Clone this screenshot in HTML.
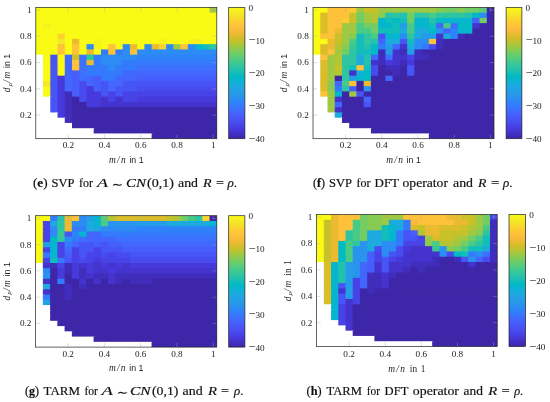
<!DOCTYPE html>
<html lang="en"><head><meta charset="utf-8"><title>Phase transition heatmaps</title>
<style>
html,body{margin:0;padding:0;background:#fff}
body{width:550px;height:402px;overflow:hidden}
svg{display:block}
text{fill:#222}
.tk{font-family:"Liberation Serif","DejaVu Serif",serif;font-size:9.2px}
.mn{font-size:12.4px}
.ax{font-family:"Liberation Sans","DejaVu Sans",sans-serif;font-size:8.8px}
.mi{font-family:"Liberation Serif","DejaVu Serif",serif;font-style:italic;font-size:9.4px;letter-spacing:1.3px}
.cap{font-family:"Liberation Serif","DejaVu Serif",serif;font-size:12.6px;fill:#111;stroke:#111;stroke-width:0.18px}
.ax.axs{font-family:"Liberation Serif","DejaVu Serif",serif;font-size:9.3px;word-spacing:1px;letter-spacing:0.2px}
.mi.sb{font-size:6.6px;letter-spacing:0.6px}
.cap .b{font-weight:bold}
.cap .it{font-style:italic}
.cap .til{font-family:"DejaVu Serif","DejaVu Sans",serif;font-size:14px;stroke:none}
.cap .cal{font-style:italic}
</style></head><body>
<svg width="550" height="402" viewBox="0 0 550 402">
<defs><linearGradient id="pg" x1="0" y1="1" x2="0" y2="0"><stop offset="0" stop-color="#3e26a8"/><stop offset="0.03" stop-color="#422ebf"/><stop offset="0.06" stop-color="#4536d5"/><stop offset="0.09" stop-color="#4741e5"/><stop offset="0.12" stop-color="#484cef"/><stop offset="0.16" stop-color="#4757f7"/><stop offset="0.19" stop-color="#4562fc"/><stop offset="0.22" stop-color="#3f6efe"/><stop offset="0.25" stop-color="#347afd"/><stop offset="0.28" stop-color="#2e85f8"/><stop offset="0.31" stop-color="#2c90f0"/><stop offset="0.34" stop-color="#269ae9"/><stop offset="0.38" stop-color="#21a3e3"/><stop offset="0.41" stop-color="#1aacdd"/><stop offset="0.44" stop-color="#0cb3d3"/><stop offset="0.47" stop-color="#01b9c6"/><stop offset="0.5" stop-color="#12beb9"/><stop offset="0.53" stop-color="#28c2ab"/><stop offset="0.56" stop-color="#34c79c"/><stop offset="0.59" stop-color="#44ca8a"/><stop offset="0.62" stop-color="#5ccc76"/><stop offset="0.66" stop-color="#77cc60"/><stop offset="0.69" stop-color="#94ca4a"/><stop offset="0.72" stop-color="#afc637"/><stop offset="0.75" stop-color="#c8c129"/><stop offset="0.78" stop-color="#debc2a"/><stop offset="0.81" stop-color="#f1ba37"/><stop offset="0.84" stop-color="#febe3c"/><stop offset="0.88" stop-color="#feca33"/><stop offset="0.91" stop-color="#f9d62d"/><stop offset="0.94" stop-color="#f5e327"/><stop offset="0.97" stop-color="#f6ef20"/><stop offset="1" stop-color="#f9fb15"/></linearGradient></defs>
<rect width="550" height="402" fill="#fff"/>
<g id="plot-e">
<rect x="35.8" y="7.4" width="174.76" height="6.25" fill="#f9fb15"/><rect x="209.56" y="7.4" width="7.24" height="6.25" fill="#9fc942"/>
<rect x="35.8" y="12.65" width="181" height="6.25" fill="#f9fb15"/>
<rect x="35.8" y="17.9" width="181" height="6.25" fill="#f9fb15"/>
<rect x="35.8" y="23.16" width="8.24" height="6.25" fill="#f9fb15"/><rect x="43.04" y="23.16" width="8.24" height="6.25" fill="#f6f21e"/><rect x="50.28" y="23.16" width="166.52" height="6.25" fill="#f9fb15"/>
<rect x="35.8" y="28.41" width="181" height="6.25" fill="#f9fb15"/>
<rect x="35.8" y="33.66" width="22.72" height="6.25" fill="#f9fb15"/><rect x="57.52" y="33.66" width="8.24" height="6.25" fill="#fad42e"/><rect x="64.76" y="33.66" width="152.04" height="6.25" fill="#f9fb15"/>
<rect x="35.8" y="38.91" width="22.72" height="6.25" fill="#f9fb15"/><rect x="57.52" y="38.91" width="8.24" height="6.25" fill="#f5e825"/><rect x="64.76" y="38.91" width="8.24" height="6.25" fill="#f9fb15"/><rect x="72" y="38.91" width="8.24" height="6.25" fill="#eaba31"/><rect x="79.24" y="38.91" width="15.48" height="6.25" fill="#f9fb15"/><rect x="93.72" y="38.91" width="8.24" height="6.25" fill="#f6f21e"/><rect x="100.96" y="38.91" width="58.92" height="6.25" fill="#f9fb15"/><rect x="158.88" y="38.91" width="8.24" height="6.25" fill="#f6f21e"/><rect x="166.12" y="38.91" width="22.72" height="6.25" fill="#f9fb15"/><rect x="187.84" y="38.91" width="15.48" height="6.25" fill="#f6f21e"/><rect x="202.32" y="38.91" width="14.48" height="6.25" fill="#f9fb15"/>
<rect x="35.8" y="44.16" width="22.72" height="6.25" fill="#f9fb15"/><rect x="57.52" y="44.16" width="8.24" height="6.25" fill="#fec13a"/><rect x="64.76" y="44.16" width="8.24" height="6.25" fill="#f9fb15"/><rect x="72" y="44.16" width="8.24" height="6.25" fill="#fec13a"/><rect x="79.24" y="44.16" width="8.24" height="6.25" fill="#f9fb15"/><rect x="86.48" y="44.16" width="8.24" height="6.25" fill="#2d8cf3"/><rect x="93.72" y="44.16" width="8.24" height="6.25" fill="#f6f21e"/><rect x="100.96" y="44.16" width="8.24" height="6.25" fill="#f9fb15"/><rect x="108.2" y="44.16" width="8.24" height="6.25" fill="#fec13a"/><rect x="115.44" y="44.16" width="8.24" height="6.25" fill="#f9fb15"/><rect x="122.68" y="44.16" width="8.24" height="6.25" fill="#2d8cf3"/><rect x="129.92" y="44.16" width="8.24" height="6.25" fill="#eaba31"/><rect x="137.16" y="44.16" width="8.24" height="6.25" fill="#f9fb15"/><rect x="144.4" y="44.16" width="8.24" height="6.25" fill="#2d8cf3"/><rect x="151.64" y="44.16" width="8.24" height="6.25" fill="#eaba31"/><rect x="158.88" y="44.16" width="8.24" height="6.25" fill="#fad42e"/><rect x="166.12" y="44.16" width="8.24" height="6.25" fill="#2d8cf3"/><rect x="173.36" y="44.16" width="8.24" height="6.25" fill="#9fc942"/><rect x="180.6" y="44.16" width="8.24" height="6.25" fill="#fec13a"/><rect x="187.84" y="44.16" width="8.24" height="6.25" fill="#2d8cf3"/><rect x="195.08" y="44.16" width="8.24" height="6.25" fill="#05b6ce"/><rect x="202.32" y="44.16" width="8.24" height="6.25" fill="#12beb9"/><rect x="209.56" y="44.16" width="7.24" height="6.25" fill="#2fc5a2"/>
<rect x="35.8" y="49.42" width="22.72" height="6.25" fill="#f9fb15"/><rect x="57.52" y="49.42" width="8.24" height="6.25" fill="#fec13a"/><rect x="64.76" y="49.42" width="8.24" height="6.25" fill="#f9fb15"/><rect x="72" y="49.42" width="8.24" height="6.25" fill="#fec13a"/><rect x="79.24" y="49.42" width="8.24" height="6.25" fill="#f9fb15"/><rect x="86.48" y="49.42" width="8.24" height="6.25" fill="#eaba31"/><rect x="93.72" y="49.42" width="8.24" height="6.25" fill="#f9fb15"/><rect x="100.96" y="49.42" width="8.24" height="6.25" fill="#347afd"/><rect x="108.2" y="49.42" width="8.24" height="6.25" fill="#fec13a"/><rect x="115.44" y="49.42" width="8.24" height="6.25" fill="#347afd"/><rect x="122.68" y="49.42" width="8.24" height="6.25" fill="#2d8cf3"/><rect x="129.92" y="49.42" width="8.24" height="6.25" fill="#fec13a"/><rect x="137.16" y="49.42" width="79.64" height="6.25" fill="#2d8cf3"/>
<rect x="35.8" y="54.67" width="8.24" height="6.25" fill="#ffffff"/><rect x="43.04" y="54.67" width="8.24" height="6.25" fill="#f9fb15"/><rect x="50.28" y="54.67" width="8.24" height="6.25" fill="#4755f6"/><rect x="57.52" y="54.67" width="8.24" height="6.25" fill="#f9fb15"/><rect x="64.76" y="54.67" width="8.24" height="6.25" fill="#4367fd"/><rect x="72" y="54.67" width="8.24" height="6.25" fill="#c8c129"/><rect x="79.24" y="54.67" width="8.24" height="6.25" fill="#3d70ff"/><rect x="86.48" y="54.67" width="8.24" height="6.25" fill="#2fc5a2"/><rect x="93.72" y="54.67" width="8.24" height="6.25" fill="#347afd"/><rect x="100.96" y="54.67" width="37.2" height="6.25" fill="#2d8cf3"/><rect x="137.16" y="54.67" width="79.64" height="6.25" fill="#2e83f9"/>
<rect x="35.8" y="59.92" width="8.24" height="6.25" fill="#ffffff"/><rect x="43.04" y="59.92" width="8.24" height="6.25" fill="#f9fb15"/><rect x="50.28" y="59.92" width="8.24" height="6.25" fill="#4755f6"/><rect x="57.52" y="59.92" width="8.24" height="6.25" fill="#f9fb15"/><rect x="64.76" y="59.92" width="8.24" height="6.25" fill="#4367fd"/><rect x="72" y="59.92" width="8.24" height="6.25" fill="#fec13a"/><rect x="79.24" y="59.92" width="8.24" height="6.25" fill="#3d70ff"/><rect x="86.48" y="59.92" width="8.24" height="6.25" fill="#eaba31"/><rect x="93.72" y="59.92" width="8.24" height="6.25" fill="#347afd"/><rect x="100.96" y="59.92" width="22.72" height="6.25" fill="#2d8cf3"/><rect x="122.68" y="59.92" width="94.12" height="6.25" fill="#347afd"/>
<rect x="35.8" y="65.17" width="8.24" height="6.25" fill="#ffffff"/><rect x="43.04" y="65.17" width="8.24" height="6.25" fill="#f9fb15"/><rect x="50.28" y="65.17" width="8.24" height="6.25" fill="#4755f6"/><rect x="57.52" y="65.17" width="8.24" height="6.25" fill="#f9fb15"/><rect x="64.76" y="65.17" width="8.24" height="6.25" fill="#4367fd"/><rect x="72" y="65.17" width="8.24" height="6.25" fill="#fec13a"/><rect x="79.24" y="65.17" width="8.24" height="6.25" fill="#3d70ff"/><rect x="86.48" y="65.17" width="22.72" height="6.25" fill="#347afd"/><rect x="108.2" y="65.17" width="8.24" height="6.25" fill="#2d8cf3"/><rect x="115.44" y="65.17" width="22.72" height="6.25" fill="#347afd"/><rect x="137.16" y="65.17" width="79.64" height="6.25" fill="#3d70ff"/>
<rect x="35.8" y="70.42" width="8.24" height="6.25" fill="#ffffff"/><rect x="43.04" y="70.42" width="8.24" height="6.25" fill="#f9fb15"/><rect x="50.28" y="70.42" width="8.24" height="6.25" fill="#4755f6"/><rect x="57.52" y="70.42" width="8.24" height="6.25" fill="#f9fb15"/><rect x="64.76" y="70.42" width="8.24" height="6.25" fill="#4367fd"/><rect x="72" y="70.42" width="8.24" height="6.25" fill="#465efb"/><rect x="79.24" y="70.42" width="8.24" height="6.25" fill="#3d70ff"/><rect x="86.48" y="70.42" width="37.2" height="6.25" fill="#347afd"/><rect x="122.68" y="70.42" width="94.12" height="6.25" fill="#4367fd"/>
<rect x="35.8" y="75.68" width="8.24" height="6.25" fill="#ffffff"/><rect x="43.04" y="75.68" width="8.24" height="6.25" fill="#f9fb15"/><rect x="50.28" y="75.68" width="8.24" height="6.25" fill="#4755f6"/><rect x="57.52" y="75.68" width="8.24" height="6.25" fill="#463adc"/><rect x="64.76" y="75.68" width="8.24" height="6.25" fill="#4367fd"/><rect x="72" y="75.68" width="8.24" height="6.25" fill="#465efb"/><rect x="79.24" y="75.68" width="8.24" height="6.25" fill="#3d70ff"/><rect x="86.48" y="75.68" width="8.24" height="6.25" fill="#4367fd"/><rect x="93.72" y="75.68" width="8.24" height="6.25" fill="#465efb"/><rect x="100.96" y="75.68" width="15.48" height="6.25" fill="#347afd"/><rect x="115.44" y="75.68" width="22.72" height="6.25" fill="#4367fd"/><rect x="137.16" y="75.68" width="79.64" height="6.25" fill="#465efb"/>
<rect x="35.8" y="80.93" width="8.24" height="6.25" fill="#ffffff"/><rect x="43.04" y="80.93" width="8.24" height="6.25" fill="#f5e825"/><rect x="50.28" y="80.93" width="8.24" height="6.25" fill="#4755f6"/><rect x="57.52" y="80.93" width="8.24" height="6.25" fill="#463adc"/><rect x="64.76" y="80.93" width="8.24" height="6.25" fill="#4367fd"/><rect x="72" y="80.93" width="8.24" height="6.25" fill="#465efb"/><rect x="79.24" y="80.93" width="8.24" height="6.25" fill="#484cef"/><rect x="86.48" y="80.93" width="8.24" height="6.25" fill="#4367fd"/><rect x="93.72" y="80.93" width="8.24" height="6.25" fill="#465efb"/><rect x="100.96" y="80.93" width="8.24" height="6.25" fill="#4755f6"/><rect x="108.2" y="80.93" width="15.48" height="6.25" fill="#4367fd"/><rect x="122.68" y="80.93" width="94.12" height="6.25" fill="#4755f6"/>
<rect x="35.8" y="86.18" width="8.24" height="6.25" fill="#ffffff"/><rect x="43.04" y="86.18" width="8.24" height="6.25" fill="#f9fb15"/><rect x="50.28" y="86.18" width="8.24" height="6.25" fill="#4755f6"/><rect x="57.52" y="86.18" width="8.24" height="6.25" fill="#463adc"/><rect x="64.76" y="86.18" width="8.24" height="6.25" fill="#4367fd"/><rect x="72" y="86.18" width="8.24" height="6.25" fill="#465efb"/><rect x="79.24" y="86.18" width="8.24" height="6.25" fill="#484cef"/><rect x="86.48" y="86.18" width="8.24" height="6.25" fill="#463adc"/><rect x="93.72" y="86.18" width="8.24" height="6.25" fill="#465efb"/><rect x="100.96" y="86.18" width="8.24" height="6.25" fill="#4755f6"/><rect x="108.2" y="86.18" width="8.24" height="6.25" fill="#4367fd"/><rect x="115.44" y="86.18" width="22.72" height="6.25" fill="#4755f6"/><rect x="137.16" y="86.18" width="79.64" height="6.25" fill="#484cef"/>
<rect x="35.8" y="91.43" width="8.24" height="6.25" fill="#ffffff"/><rect x="43.04" y="91.43" width="8.24" height="6.25" fill="#f9fb15"/><rect x="50.28" y="91.43" width="8.24" height="6.25" fill="#4755f6"/><rect x="57.52" y="91.43" width="8.24" height="6.25" fill="#463adc"/><rect x="64.76" y="91.43" width="8.24" height="6.25" fill="#412dbb"/><rect x="72" y="91.43" width="8.24" height="6.25" fill="#465efb"/><rect x="79.24" y="91.43" width="8.24" height="6.25" fill="#484cef"/><rect x="86.48" y="91.43" width="15.48" height="6.25" fill="#463adc"/><rect x="100.96" y="91.43" width="8.24" height="6.25" fill="#4755f6"/><rect x="108.2" y="91.43" width="8.24" height="6.25" fill="#4743e7"/><rect x="115.44" y="91.43" width="8.24" height="6.25" fill="#4755f6"/><rect x="122.68" y="91.43" width="94.12" height="6.25" fill="#4743e7"/>
<rect x="35.8" y="96.68" width="15.48" height="6.25" fill="#ffffff"/><rect x="50.28" y="96.68" width="8.24" height="6.25" fill="#4755f6"/><rect x="57.52" y="96.68" width="8.24" height="6.25" fill="#463adc"/><rect x="64.76" y="96.68" width="8.24" height="6.25" fill="#412dbb"/><rect x="72" y="96.68" width="8.24" height="6.25" fill="#3e26a8"/><rect x="79.24" y="96.68" width="8.24" height="6.25" fill="#484cef"/><rect x="86.48" y="96.68" width="15.48" height="6.25" fill="#463adc"/><rect x="100.96" y="96.68" width="8.24" height="6.25" fill="#4433cc"/><rect x="108.2" y="96.68" width="8.24" height="6.25" fill="#4743e7"/><rect x="115.44" y="96.68" width="8.24" height="6.25" fill="#4433cc"/><rect x="122.68" y="96.68" width="15.48" height="6.25" fill="#4743e7"/><rect x="137.16" y="96.68" width="79.64" height="6.25" fill="#463adc"/>
<rect x="35.8" y="101.94" width="15.48" height="6.25" fill="#ffffff"/><rect x="50.28" y="101.94" width="8.24" height="6.25" fill="#4755f6"/><rect x="57.52" y="101.94" width="8.24" height="6.25" fill="#463adc"/><rect x="64.76" y="101.94" width="8.24" height="6.25" fill="#412dbb"/><rect x="72" y="101.94" width="15.48" height="6.25" fill="#3e26a8"/><rect x="86.48" y="101.94" width="15.48" height="6.25" fill="#463adc"/><rect x="100.96" y="101.94" width="115.84" height="6.25" fill="#4433cc"/>
<rect x="35.8" y="107.19" width="15.48" height="6.25" fill="#ffffff"/><rect x="50.28" y="107.19" width="8.24" height="6.25" fill="#4755f6"/><rect x="57.52" y="107.19" width="8.24" height="6.25" fill="#463adc"/><rect x="64.76" y="107.19" width="8.24" height="6.25" fill="#412dbb"/><rect x="72" y="107.19" width="144.8" height="6.25" fill="#3e26a8"/>
<rect x="35.8" y="112.44" width="22.72" height="6.25" fill="#ffffff"/><rect x="57.52" y="112.44" width="8.24" height="6.25" fill="#463adc"/><rect x="64.76" y="112.44" width="8.24" height="6.25" fill="#412dbb"/><rect x="72" y="112.44" width="144.8" height="6.25" fill="#3e26a8"/>
<rect x="35.8" y="117.69" width="29.96" height="6.25" fill="#ffffff"/><rect x="64.76" y="117.69" width="8.24" height="6.25" fill="#412dbb"/><rect x="72" y="117.69" width="144.8" height="6.25" fill="#3e26a8"/>
<rect x="35.8" y="122.94" width="37.2" height="6.25" fill="#ffffff"/><rect x="72" y="122.94" width="144.8" height="6.25" fill="#3e26a8"/>
<rect x="35.8" y="128.2" width="58.92" height="6.25" fill="#ffffff"/><rect x="93.72" y="128.2" width="123.08" height="6.25" fill="#3e26a8"/>
<rect x="35.8" y="133.45" width="116.84" height="5.25" fill="#ffffff"/><rect x="151.64" y="133.45" width="65.16" height="5.25" fill="#3e26a8"/>
<path d="M68.38 138.7 v-4.2 M68.38 7.4 v4.2" stroke="#aaa" stroke-opacity="0.75" stroke-width="0.5" fill="none"/><path d="M35.8 115.07 h4.2 M216.8 115.07 h-4.2" stroke="#aaa" stroke-opacity="0.75" stroke-width="0.5" fill="none"/><path d="M104.58 138.7 v-4.2 M104.58 7.4 v4.2" stroke="#aaa" stroke-opacity="0.75" stroke-width="0.5" fill="none"/><path d="M35.8 88.81 h4.2 M216.8 88.81 h-4.2" stroke="#aaa" stroke-opacity="0.75" stroke-width="0.5" fill="none"/><path d="M140.78 138.7 v-4.2 M140.78 7.4 v4.2" stroke="#aaa" stroke-opacity="0.75" stroke-width="0.5" fill="none"/><path d="M35.8 62.55 h4.2 M216.8 62.55 h-4.2" stroke="#aaa" stroke-opacity="0.75" stroke-width="0.5" fill="none"/><path d="M176.98 138.7 v-4.2 M176.98 7.4 v4.2" stroke="#aaa" stroke-opacity="0.75" stroke-width="0.5" fill="none"/><path d="M35.8 36.29 h4.2 M216.8 36.29 h-4.2" stroke="#aaa" stroke-opacity="0.75" stroke-width="0.5" fill="none"/><path d="M213.18 138.7 v-4.2 M213.18 7.4 v4.2" stroke="#aaa" stroke-opacity="0.75" stroke-width="0.5" fill="none"/><path d="M35.8 10.03 h4.2 M216.8 10.03 h-4.2" stroke="#aaa" stroke-opacity="0.75" stroke-width="0.5" fill="none"/>
<rect x="35.8" y="7.4" width="181" height="131.3" fill="none" stroke="#222" stroke-width="0.7"/>
<rect x="228.7" y="7.4" width="16.2" height="131.3" fill="url(#pg)" stroke="#222" stroke-width="0.7"/>
<path d="M244.9 7.4 h-1.6" stroke="#888" stroke-width="0.4"/><text class="tk" x="248.5" y="10.8">0</text><path d="M244.9 40.23 h-1.6" stroke="#888" stroke-width="0.4"/><text class="tk" x="248.5" y="43.62"><tspan class="mn" dy="0.8">−</tspan><tspan dy="-0.8">10</tspan></text><path d="M244.9 73.05 h-1.6" stroke="#888" stroke-width="0.4"/><text class="tk" x="248.5" y="76.45"><tspan class="mn" dy="0.8">−</tspan><tspan dy="-0.8">20</tspan></text><path d="M244.9 105.88 h-1.6" stroke="#888" stroke-width="0.4"/><text class="tk" x="248.5" y="109.28"><tspan class="mn" dy="0.8">−</tspan><tspan dy="-0.8">30</tspan></text><path d="M244.9 138.7 h-1.6" stroke="#888" stroke-width="0.4"/><text class="tk" x="248.5" y="142.1"><tspan class="mn" dy="0.8">−</tspan><tspan dy="-0.8">40</tspan></text>
<text class="tk" text-anchor="middle" x="68.38" y="148.4">0.2</text><text class="tk" text-anchor="end" x="31.6" y="117.97">0.2</text><text class="tk" text-anchor="middle" x="104.58" y="148.4">0.4</text><text class="tk" text-anchor="end" x="31.6" y="91.71">0.4</text><text class="tk" text-anchor="middle" x="140.78" y="148.4">0.6</text><text class="tk" text-anchor="end" x="31.6" y="65.45">0.6</text><text class="tk" text-anchor="middle" x="176.98" y="148.4">0.8</text><text class="tk" text-anchor="end" x="31.6" y="39.19">0.8</text><text class="tk" text-anchor="middle" x="213.18" y="148.4">1</text><text class="tk" text-anchor="end" x="31.6" y="12.93">1</text>
<text class="ax" text-anchor="middle" x="126.3" y="162.5"><tspan class="mi">m</tspan><tspan class="mi">/</tspan><tspan class="mi">n</tspan> in 1</text>
<text class="ax" text-anchor="middle" transform="translate(9.9 73.05) rotate(-90)"><tspan class="mi">d</tspan><tspan class="mi sb" dy="1.7">ρ</tspan><tspan class="mi" dy="-1.7">/</tspan><tspan class="mi">m</tspan> in 1</text>
<text class="cap" x="33" y="187.4" textLength="14.6" lengthAdjust="spacingAndGlyphs">(<tspan class="b">e</tspan>)</text><text class="cap" x="51.6" y="187.4" textLength="22.8" lengthAdjust="spacingAndGlyphs">SVP</text><text class="cap" x="79" y="187.4" textLength="14" lengthAdjust="spacingAndGlyphs">for</text><text class="cap" x="97" y="187.4" textLength="11" lengthAdjust="spacingAndGlyphs"><tspan class="cal">A</tspan></text><text class="cap" x="111.6" y="187.4"><tspan class="til" dy="1.6">∼</tspan></text><text class="cap" x="126" y="187.4" textLength="20" lengthAdjust="spacingAndGlyphs"><tspan class="cal">CN</tspan></text><text class="cap" x="147" y="187.4" textLength="27" lengthAdjust="spacingAndGlyphs">(0,1)</text><text class="cap" x="178" y="187.4" textLength="20" lengthAdjust="spacingAndGlyphs">and</text><text class="cap" x="203" y="187.4" textLength="8.6" lengthAdjust="spacingAndGlyphs"><tspan class="it">R</tspan></text><text class="cap" x="216" y="187.4" textLength="8" lengthAdjust="spacingAndGlyphs">=</text><text class="cap" x="227.4" y="187.4" textLength="9.6" lengthAdjust="spacingAndGlyphs"><tspan class="it">ρ</tspan>.</text>
</g>
<g id="plot-f">
<rect x="313" y="7.4" width="15.48" height="6.25" fill="#f9fb15"/><rect x="327.48" y="7.4" width="22.72" height="6.25" fill="#fec13a"/><rect x="349.2" y="7.4" width="8.24" height="6.25" fill="#feca33"/><rect x="356.44" y="7.4" width="8.24" height="6.25" fill="#9fc942"/><rect x="363.68" y="7.4" width="15.48" height="6.25" fill="#c8c129"/><rect x="378.16" y="7.4" width="58.92" height="6.25" fill="#9fc942"/><rect x="436.08" y="7.4" width="8.24" height="6.25" fill="#88cb53"/><rect x="443.32" y="7.4" width="15.48" height="6.25" fill="#71cd64"/><rect x="457.8" y="7.4" width="8.24" height="6.25" fill="#88cb53"/><rect x="465.04" y="7.4" width="15.48" height="6.25" fill="#71cd64"/><rect x="479.52" y="7.4" width="8.24" height="6.25" fill="#5ccc76"/><rect x="486.76" y="7.4" width="7.24" height="6.25" fill="#3e26a8"/>
<rect x="313" y="12.65" width="8.24" height="6.25" fill="#f9fb15"/><rect x="320.24" y="12.65" width="8.24" height="6.25" fill="#dabd28"/><rect x="327.48" y="12.65" width="22.72" height="6.25" fill="#fec13a"/><rect x="349.2" y="12.65" width="8.24" height="6.25" fill="#c8c129"/><rect x="356.44" y="12.65" width="8.24" height="6.25" fill="#71cd64"/><rect x="363.68" y="12.65" width="8.24" height="6.25" fill="#9fc942"/><rect x="370.92" y="12.65" width="8.24" height="6.25" fill="#b4c533"/><rect x="378.16" y="12.65" width="8.24" height="6.25" fill="#88cb53"/><rect x="385.4" y="12.65" width="8.24" height="6.25" fill="#24c2ae"/><rect x="392.64" y="12.65" width="8.24" height="6.25" fill="#2fc5a2"/><rect x="399.88" y="12.65" width="8.24" height="6.25" fill="#24c2ae"/><rect x="407.12" y="12.65" width="8.24" height="6.25" fill="#71cd64"/><rect x="414.36" y="12.65" width="15.48" height="6.25" fill="#2fc5a2"/><rect x="428.84" y="12.65" width="8.24" height="6.25" fill="#48cb86"/><rect x="436.08" y="12.65" width="29.96" height="6.25" fill="#2fc5a2"/><rect x="465.04" y="12.65" width="8.24" height="6.25" fill="#24c2ae"/><rect x="472.28" y="12.65" width="8.24" height="6.25" fill="#02bac4"/><rect x="479.52" y="12.65" width="8.24" height="6.25" fill="#2d8cf3"/><rect x="486.76" y="12.65" width="7.24" height="6.25" fill="#3e26a8"/>
<rect x="313" y="17.9" width="8.24" height="6.25" fill="#f9fb15"/><rect x="320.24" y="17.9" width="8.24" height="6.25" fill="#dabd28"/><rect x="327.48" y="17.9" width="15.48" height="6.25" fill="#fec13a"/><rect x="341.96" y="17.9" width="8.24" height="6.25" fill="#feca33"/><rect x="349.2" y="17.9" width="8.24" height="6.25" fill="#c8c129"/><rect x="356.44" y="17.9" width="8.24" height="6.25" fill="#71cd64"/><rect x="363.68" y="17.9" width="8.24" height="6.25" fill="#9fc942"/><rect x="370.92" y="17.9" width="8.24" height="6.25" fill="#b4c533"/><rect x="378.16" y="17.9" width="8.24" height="6.25" fill="#05b6ce"/><rect x="385.4" y="17.9" width="8.24" height="6.25" fill="#12beb9"/><rect x="392.64" y="17.9" width="8.24" height="6.25" fill="#02bac4"/><rect x="399.88" y="17.9" width="8.24" height="6.25" fill="#12beb9"/><rect x="407.12" y="17.9" width="8.24" height="6.25" fill="#71cd64"/><rect x="414.36" y="17.9" width="15.48" height="6.25" fill="#05b6ce"/><rect x="428.84" y="17.9" width="8.24" height="6.25" fill="#24c2ae"/><rect x="436.08" y="17.9" width="8.24" height="6.25" fill="#02bac4"/><rect x="443.32" y="17.9" width="29.96" height="6.25" fill="#05b6ce"/><rect x="472.28" y="17.9" width="8.24" height="6.25" fill="#465efb"/><rect x="479.52" y="17.9" width="8.24" height="6.25" fill="#71cd64"/><rect x="486.76" y="17.9" width="7.24" height="6.25" fill="#3e26a8"/>
<rect x="313" y="23.16" width="8.24" height="6.25" fill="#f9fb15"/><rect x="320.24" y="23.16" width="8.24" height="6.25" fill="#dabd28"/><rect x="327.48" y="23.16" width="15.48" height="6.25" fill="#fec13a"/><rect x="341.96" y="23.16" width="15.48" height="6.25" fill="#9fc942"/><rect x="356.44" y="23.16" width="8.24" height="6.25" fill="#48cb86"/><rect x="363.68" y="23.16" width="15.48" height="6.25" fill="#71cd64"/><rect x="378.16" y="23.16" width="15.48" height="6.25" fill="#05b6ce"/><rect x="392.64" y="23.16" width="8.24" height="6.25" fill="#12beb9"/><rect x="399.88" y="23.16" width="8.24" height="6.25" fill="#259ce7"/><rect x="407.12" y="23.16" width="8.24" height="6.25" fill="#48cb86"/><rect x="414.36" y="23.16" width="15.48" height="6.25" fill="#05b6ce"/><rect x="428.84" y="23.16" width="8.24" height="6.25" fill="#12beb9"/><rect x="436.08" y="23.16" width="8.24" height="6.25" fill="#4367fd"/><rect x="443.32" y="23.16" width="8.24" height="6.25" fill="#48cb86"/><rect x="450.56" y="23.16" width="8.24" height="6.25" fill="#3d70ff"/><rect x="457.8" y="23.16" width="15.48" height="6.25" fill="#02bac4"/><rect x="472.28" y="23.16" width="8.24" height="6.25" fill="#4433cc"/><rect x="479.52" y="23.16" width="14.48" height="6.25" fill="#3e26a8"/>
<rect x="313" y="28.41" width="8.24" height="6.25" fill="#f9fb15"/><rect x="320.24" y="28.41" width="8.24" height="6.25" fill="#dabd28"/><rect x="327.48" y="28.41" width="8.24" height="6.25" fill="#fec13a"/><rect x="334.72" y="28.41" width="8.24" height="6.25" fill="#eaba31"/><rect x="341.96" y="28.41" width="15.48" height="6.25" fill="#9fc942"/><rect x="356.44" y="28.41" width="15.48" height="6.25" fill="#48cb86"/><rect x="370.92" y="28.41" width="8.24" height="6.25" fill="#71cd64"/><rect x="378.16" y="28.41" width="22.72" height="6.25" fill="#12beb9"/><rect x="399.88" y="28.41" width="8.24" height="6.25" fill="#1caadf"/><rect x="407.12" y="28.41" width="8.24" height="6.25" fill="#48cb86"/><rect x="414.36" y="28.41" width="15.48" height="6.25" fill="#1caadf"/><rect x="428.84" y="28.41" width="8.24" height="6.25" fill="#02bac4"/><rect x="436.08" y="28.41" width="8.24" height="6.25" fill="#2994ed"/><rect x="443.32" y="28.41" width="8.24" height="6.25" fill="#4367fd"/><rect x="450.56" y="28.41" width="8.24" height="6.25" fill="#2e83f9"/><rect x="457.8" y="28.41" width="15.48" height="6.25" fill="#05b6ce"/><rect x="472.28" y="28.41" width="21.72" height="6.25" fill="#3e26a8"/>
<rect x="313" y="33.66" width="8.24" height="6.25" fill="#f9fb15"/><rect x="320.24" y="33.66" width="15.48" height="6.25" fill="#fec13a"/><rect x="334.72" y="33.66" width="8.24" height="6.25" fill="#c8c129"/><rect x="341.96" y="33.66" width="8.24" height="6.25" fill="#9fc942"/><rect x="349.2" y="33.66" width="8.24" height="6.25" fill="#88cb53"/><rect x="356.44" y="33.66" width="8.24" height="6.25" fill="#12beb9"/><rect x="363.68" y="33.66" width="8.24" height="6.25" fill="#2fc5a2"/><rect x="370.92" y="33.66" width="8.24" height="6.25" fill="#48cb86"/><rect x="378.16" y="33.66" width="8.24" height="6.25" fill="#4755f6"/><rect x="385.4" y="33.66" width="15.48" height="6.25" fill="#05b6ce"/><rect x="399.88" y="33.66" width="8.24" height="6.25" fill="#2d8cf3"/><rect x="407.12" y="33.66" width="8.24" height="6.25" fill="#2fc5a2"/><rect x="414.36" y="33.66" width="8.24" height="6.25" fill="#1caadf"/><rect x="421.6" y="33.66" width="15.48" height="6.25" fill="#259ce7"/><rect x="436.08" y="33.66" width="8.24" height="6.25" fill="#4433cc"/><rect x="443.32" y="33.66" width="8.24" height="6.25" fill="#1caadf"/><rect x="450.56" y="33.66" width="8.24" height="6.25" fill="#2e83f9"/><rect x="457.8" y="33.66" width="8.24" height="6.25" fill="#412dbb"/><rect x="465.04" y="33.66" width="28.96" height="6.25" fill="#3e26a8"/>
<rect x="313" y="38.91" width="15.48" height="6.25" fill="#f9fb15"/><rect x="327.48" y="38.91" width="8.24" height="6.25" fill="#eaba31"/><rect x="334.72" y="38.91" width="8.24" height="6.25" fill="#c8c129"/><rect x="341.96" y="38.91" width="8.24" height="6.25" fill="#9fc942"/><rect x="349.2" y="38.91" width="8.24" height="6.25" fill="#48cb86"/><rect x="356.44" y="38.91" width="8.24" height="6.25" fill="#12beb9"/><rect x="363.68" y="38.91" width="8.24" height="6.25" fill="#2fc5a2"/><rect x="370.92" y="38.91" width="8.24" height="6.25" fill="#24c2ae"/><rect x="378.16" y="38.91" width="8.24" height="6.25" fill="#4367fd"/><rect x="385.4" y="38.91" width="15.48" height="6.25" fill="#1caadf"/><rect x="399.88" y="38.91" width="8.24" height="6.25" fill="#4755f6"/><rect x="407.12" y="38.91" width="8.24" height="6.25" fill="#12beb9"/><rect x="414.36" y="38.91" width="15.48" height="6.25" fill="#2d8cf3"/><rect x="428.84" y="38.91" width="8.24" height="6.25" fill="#fec13a"/><rect x="436.08" y="38.91" width="8.24" height="6.25" fill="#412dbb"/><rect x="443.32" y="38.91" width="50.68" height="6.25" fill="#3e26a8"/>
<rect x="313" y="44.16" width="8.24" height="6.25" fill="#f9fb15"/><rect x="320.24" y="44.16" width="8.24" height="6.25" fill="#dabd28"/><rect x="327.48" y="44.16" width="8.24" height="6.25" fill="#eaba31"/><rect x="334.72" y="44.16" width="8.24" height="6.25" fill="#b4c533"/><rect x="341.96" y="44.16" width="8.24" height="6.25" fill="#88cb53"/><rect x="349.2" y="44.16" width="8.24" height="6.25" fill="#39c895"/><rect x="356.44" y="44.16" width="8.24" height="6.25" fill="#12beb9"/><rect x="363.68" y="44.16" width="8.24" height="6.25" fill="#24c2ae"/><rect x="370.92" y="44.16" width="8.24" height="6.25" fill="#02bac4"/><rect x="378.16" y="44.16" width="8.24" height="6.25" fill="#347afd"/><rect x="385.4" y="44.16" width="8.24" height="6.25" fill="#259ce7"/><rect x="392.64" y="44.16" width="8.24" height="6.25" fill="#4367fd"/><rect x="399.88" y="44.16" width="8.24" height="6.25" fill="#4433cc"/><rect x="407.12" y="44.16" width="8.24" height="6.25" fill="#1caadf"/><rect x="414.36" y="44.16" width="8.24" height="6.25" fill="#2d8cf3"/><rect x="421.6" y="44.16" width="8.24" height="6.25" fill="#347afd"/><rect x="428.84" y="44.16" width="8.24" height="6.25" fill="#484cef"/><rect x="436.08" y="44.16" width="8.24" height="6.25" fill="#412dbb"/><rect x="443.32" y="44.16" width="50.68" height="6.25" fill="#3e26a8"/>
<rect x="313" y="49.42" width="8.24" height="6.25" fill="#f9fb15"/><rect x="320.24" y="49.42" width="8.24" height="6.25" fill="#dabd28"/><rect x="327.48" y="49.42" width="8.24" height="6.25" fill="#fec13a"/><rect x="334.72" y="49.42" width="8.24" height="6.25" fill="#9fc942"/><rect x="341.96" y="49.42" width="8.24" height="6.25" fill="#71cd64"/><rect x="349.2" y="49.42" width="8.24" height="6.25" fill="#2fc5a2"/><rect x="356.44" y="49.42" width="15.48" height="6.25" fill="#12beb9"/><rect x="370.92" y="49.42" width="8.24" height="6.25" fill="#05b6ce"/><rect x="378.16" y="49.42" width="8.24" height="6.25" fill="#412dbb"/><rect x="385.4" y="49.42" width="8.24" height="6.25" fill="#259ce7"/><rect x="392.64" y="49.42" width="8.24" height="6.25" fill="#4433cc"/><rect x="399.88" y="49.42" width="8.24" height="6.25" fill="#412dbb"/><rect x="407.12" y="49.42" width="8.24" height="6.25" fill="#259ce7"/><rect x="414.36" y="49.42" width="8.24" height="6.25" fill="#412dbb"/><rect x="421.6" y="49.42" width="72.4" height="6.25" fill="#3e26a8"/>
<rect x="313" y="54.67" width="8.24" height="6.25" fill="#ffffff"/><rect x="320.24" y="54.67" width="8.24" height="6.25" fill="#fec13a"/><rect x="327.48" y="54.67" width="8.24" height="6.25" fill="#9fc942"/><rect x="334.72" y="54.67" width="8.24" height="6.25" fill="#b4c533"/><rect x="341.96" y="54.67" width="15.48" height="6.25" fill="#2fc5a2"/><rect x="356.44" y="54.67" width="8.24" height="6.25" fill="#1caadf"/><rect x="363.68" y="54.67" width="8.24" height="6.25" fill="#24c2ae"/><rect x="370.92" y="54.67" width="8.24" height="6.25" fill="#4367fd"/><rect x="378.16" y="54.67" width="8.24" height="6.25" fill="#412dbb"/><rect x="385.4" y="54.67" width="8.24" height="6.25" fill="#3d70ff"/><rect x="392.64" y="54.67" width="15.48" height="6.25" fill="#4433cc"/><rect x="407.12" y="54.67" width="8.24" height="6.25" fill="#4743e7"/><rect x="414.36" y="54.67" width="15.48" height="6.25" fill="#412dbb"/><rect x="428.84" y="54.67" width="65.16" height="6.25" fill="#3e26a8"/>
<rect x="313" y="59.92" width="8.24" height="6.25" fill="#ffffff"/><rect x="320.24" y="59.92" width="8.24" height="6.25" fill="#dabd28"/><rect x="327.48" y="59.92" width="8.24" height="6.25" fill="#9fc942"/><rect x="334.72" y="59.92" width="8.24" height="6.25" fill="#b4c533"/><rect x="341.96" y="59.92" width="15.48" height="6.25" fill="#2fc5a2"/><rect x="356.44" y="59.92" width="8.24" height="6.25" fill="#1caadf"/><rect x="363.68" y="59.92" width="8.24" height="6.25" fill="#24c2ae"/><rect x="370.92" y="59.92" width="8.24" height="6.25" fill="#4433cc"/><rect x="378.16" y="59.92" width="8.24" height="6.25" fill="#412dbb"/><rect x="385.4" y="59.92" width="8.24" height="6.25" fill="#463adc"/><rect x="392.64" y="59.92" width="8.24" height="6.25" fill="#4433cc"/><rect x="399.88" y="59.92" width="8.24" height="6.25" fill="#412dbb"/><rect x="407.12" y="59.92" width="8.24" height="6.25" fill="#463adc"/><rect x="414.36" y="59.92" width="79.64" height="6.25" fill="#3e26a8"/>
<rect x="313" y="65.17" width="8.24" height="6.25" fill="#ffffff"/><rect x="320.24" y="65.17" width="8.24" height="6.25" fill="#dabd28"/><rect x="327.48" y="65.17" width="8.24" height="6.25" fill="#9fc942"/><rect x="334.72" y="65.17" width="8.24" height="6.25" fill="#c8c129"/><rect x="341.96" y="65.17" width="8.24" height="6.25" fill="#2fc5a2"/><rect x="349.2" y="65.17" width="8.24" height="6.25" fill="#12beb9"/><rect x="356.44" y="65.17" width="8.24" height="6.25" fill="#fec13a"/><rect x="363.68" y="65.17" width="8.24" height="6.25" fill="#12beb9"/><rect x="370.92" y="65.17" width="8.24" height="6.25" fill="#484cef"/><rect x="378.16" y="65.17" width="8.24" height="6.25" fill="#3e26a8"/><rect x="385.4" y="65.17" width="15.48" height="6.25" fill="#412dbb"/><rect x="399.88" y="65.17" width="8.24" height="6.25" fill="#3e26a8"/><rect x="407.12" y="65.17" width="8.24" height="6.25" fill="#4755f6"/><rect x="414.36" y="65.17" width="79.64" height="6.25" fill="#3e26a8"/>
<rect x="313" y="70.42" width="8.24" height="6.25" fill="#ffffff"/><rect x="320.24" y="70.42" width="8.24" height="6.25" fill="#dabd28"/><rect x="327.48" y="70.42" width="8.24" height="6.25" fill="#9fc942"/><rect x="334.72" y="70.42" width="8.24" height="6.25" fill="#b4c533"/><rect x="341.96" y="70.42" width="8.24" height="6.25" fill="#2fc5a2"/><rect x="349.2" y="70.42" width="8.24" height="6.25" fill="#4433cc"/><rect x="356.44" y="70.42" width="8.24" height="6.25" fill="#13b0d7"/><rect x="363.68" y="70.42" width="8.24" height="6.25" fill="#02bac4"/><rect x="370.92" y="70.42" width="8.24" height="6.25" fill="#484cef"/><rect x="378.16" y="70.42" width="15.48" height="6.25" fill="#3e26a8"/><rect x="392.64" y="70.42" width="8.24" height="6.25" fill="#412dbb"/><rect x="399.88" y="70.42" width="8.24" height="6.25" fill="#3e26a8"/><rect x="407.12" y="70.42" width="8.24" height="6.25" fill="#4755f6"/><rect x="414.36" y="70.42" width="79.64" height="6.25" fill="#3e26a8"/>
<rect x="313" y="75.68" width="8.24" height="6.25" fill="#ffffff"/><rect x="320.24" y="75.68" width="8.24" height="6.25" fill="#dabd28"/><rect x="327.48" y="75.68" width="8.24" height="6.25" fill="#9fc942"/><rect x="334.72" y="75.68" width="8.24" height="6.25" fill="#3e26a8"/><rect x="341.96" y="75.68" width="8.24" height="6.25" fill="#2fc5a2"/><rect x="349.2" y="75.68" width="8.24" height="6.25" fill="#259ce7"/><rect x="356.44" y="75.68" width="8.24" height="6.25" fill="#05b6ce"/><rect x="363.68" y="75.68" width="8.24" height="6.25" fill="#02bac4"/><rect x="370.92" y="75.68" width="15.48" height="6.25" fill="#3e26a8"/><rect x="385.4" y="75.68" width="8.24" height="6.25" fill="#4367fd"/><rect x="392.64" y="75.68" width="101.36" height="6.25" fill="#3e26a8"/>
<rect x="313" y="80.93" width="8.24" height="6.25" fill="#ffffff"/><rect x="320.24" y="80.93" width="8.24" height="6.25" fill="#dabd28"/><rect x="327.48" y="80.93" width="8.24" height="6.25" fill="#88cb53"/><rect x="334.72" y="80.93" width="8.24" height="6.25" fill="#4367fd"/><rect x="341.96" y="80.93" width="8.24" height="6.25" fill="#48cb86"/><rect x="349.2" y="80.93" width="8.24" height="6.25" fill="#fec13a"/><rect x="356.44" y="80.93" width="8.24" height="6.25" fill="#3e26a8"/><rect x="363.68" y="80.93" width="8.24" height="6.25" fill="#eaba31"/><rect x="370.92" y="80.93" width="123.08" height="6.25" fill="#3e26a8"/>
<rect x="313" y="86.18" width="8.24" height="6.25" fill="#ffffff"/><rect x="320.24" y="86.18" width="8.24" height="6.25" fill="#dabd28"/><rect x="327.48" y="86.18" width="8.24" height="6.25" fill="#88cb53"/><rect x="334.72" y="86.18" width="8.24" height="6.25" fill="#347afd"/><rect x="341.96" y="86.18" width="8.24" height="6.25" fill="#2fc5a2"/><rect x="349.2" y="86.18" width="8.24" height="6.25" fill="#465efb"/><rect x="356.44" y="86.18" width="8.24" height="6.25" fill="#3e26a8"/><rect x="363.68" y="86.18" width="8.24" height="6.25" fill="#2994ed"/><rect x="370.92" y="86.18" width="123.08" height="6.25" fill="#3e26a8"/>
<rect x="313" y="91.43" width="8.24" height="6.25" fill="#ffffff"/><rect x="320.24" y="91.43" width="8.24" height="6.25" fill="#fec13a"/><rect x="327.48" y="91.43" width="8.24" height="6.25" fill="#9fc942"/><rect x="334.72" y="91.43" width="8.24" height="6.25" fill="#05b6ce"/><rect x="341.96" y="91.43" width="8.24" height="6.25" fill="#3e26a8"/><rect x="349.2" y="91.43" width="8.24" height="6.25" fill="#9fc942"/><rect x="356.44" y="91.43" width="8.24" height="6.25" fill="#4755f6"/><rect x="363.68" y="91.43" width="130.32" height="6.25" fill="#3e26a8"/>
<rect x="313" y="96.68" width="15.48" height="6.25" fill="#ffffff"/><rect x="327.48" y="96.68" width="8.24" height="6.25" fill="#9fc942"/><rect x="334.72" y="96.68" width="8.24" height="6.25" fill="#4433cc"/><rect x="341.96" y="96.68" width="22.72" height="6.25" fill="#3e26a8"/><rect x="363.68" y="96.68" width="8.24" height="6.25" fill="#4367fd"/><rect x="370.92" y="96.68" width="123.08" height="6.25" fill="#3e26a8"/>
<rect x="313" y="101.94" width="15.48" height="6.25" fill="#ffffff"/><rect x="327.48" y="101.94" width="8.24" height="6.25" fill="#9fc942"/><rect x="334.72" y="101.94" width="8.24" height="6.25" fill="#4367fd"/><rect x="341.96" y="101.94" width="22.72" height="6.25" fill="#3e26a8"/><rect x="363.68" y="101.94" width="8.24" height="6.25" fill="#4755f6"/><rect x="370.92" y="101.94" width="123.08" height="6.25" fill="#3e26a8"/>
<rect x="313" y="107.19" width="15.48" height="6.25" fill="#ffffff"/><rect x="327.48" y="107.19" width="8.24" height="6.25" fill="#9fc942"/><rect x="334.72" y="107.19" width="8.24" height="6.25" fill="#4433cc"/><rect x="341.96" y="107.19" width="152.04" height="6.25" fill="#3e26a8"/>
<rect x="313" y="112.44" width="22.72" height="6.25" fill="#ffffff"/><rect x="334.72" y="112.44" width="8.24" height="6.25" fill="#1caadf"/><rect x="341.96" y="112.44" width="152.04" height="6.25" fill="#3e26a8"/>
<rect x="313" y="117.69" width="29.96" height="6.25" fill="#ffffff"/><rect x="341.96" y="117.69" width="152.04" height="6.25" fill="#3e26a8"/>
<rect x="313" y="122.94" width="37.2" height="6.25" fill="#ffffff"/><rect x="349.2" y="122.94" width="144.8" height="6.25" fill="#3e26a8"/>
<rect x="313" y="128.2" width="58.92" height="6.25" fill="#ffffff"/><rect x="370.92" y="128.2" width="123.08" height="6.25" fill="#3e26a8"/>
<rect x="313" y="133.45" width="116.84" height="5.25" fill="#ffffff"/><rect x="428.84" y="133.45" width="65.16" height="5.25" fill="#3e26a8"/>
<path d="M345.58 138.7 v-4.2 M345.58 7.4 v4.2" stroke="#aaa" stroke-opacity="0.75" stroke-width="0.5" fill="none"/><path d="M313 115.07 h4.2 M494 115.07 h-4.2" stroke="#aaa" stroke-opacity="0.75" stroke-width="0.5" fill="none"/><path d="M381.78 138.7 v-4.2 M381.78 7.4 v4.2" stroke="#aaa" stroke-opacity="0.75" stroke-width="0.5" fill="none"/><path d="M313 88.81 h4.2 M494 88.81 h-4.2" stroke="#aaa" stroke-opacity="0.75" stroke-width="0.5" fill="none"/><path d="M417.98 138.7 v-4.2 M417.98 7.4 v4.2" stroke="#aaa" stroke-opacity="0.75" stroke-width="0.5" fill="none"/><path d="M313 62.55 h4.2 M494 62.55 h-4.2" stroke="#aaa" stroke-opacity="0.75" stroke-width="0.5" fill="none"/><path d="M454.18 138.7 v-4.2 M454.18 7.4 v4.2" stroke="#aaa" stroke-opacity="0.75" stroke-width="0.5" fill="none"/><path d="M313 36.29 h4.2 M494 36.29 h-4.2" stroke="#aaa" stroke-opacity="0.75" stroke-width="0.5" fill="none"/><path d="M490.38 138.7 v-4.2 M490.38 7.4 v4.2" stroke="#aaa" stroke-opacity="0.75" stroke-width="0.5" fill="none"/><path d="M313 10.03 h4.2 M494 10.03 h-4.2" stroke="#aaa" stroke-opacity="0.75" stroke-width="0.5" fill="none"/>
<rect x="313" y="7.4" width="181" height="131.3" fill="none" stroke="#222" stroke-width="0.7"/>
<rect x="506.1" y="7.4" width="15.8" height="131.3" fill="url(#pg)" stroke="#222" stroke-width="0.7"/>
<path d="M521.9 7.4 h-1.6" stroke="#888" stroke-width="0.4"/><text class="tk" x="525.5" y="10.8">0</text><path d="M521.9 40.23 h-1.6" stroke="#888" stroke-width="0.4"/><text class="tk" x="525.5" y="43.62"><tspan class="mn" dy="0.8">−</tspan><tspan dy="-0.8">10</tspan></text><path d="M521.9 73.05 h-1.6" stroke="#888" stroke-width="0.4"/><text class="tk" x="525.5" y="76.45"><tspan class="mn" dy="0.8">−</tspan><tspan dy="-0.8">20</tspan></text><path d="M521.9 105.88 h-1.6" stroke="#888" stroke-width="0.4"/><text class="tk" x="525.5" y="109.28"><tspan class="mn" dy="0.8">−</tspan><tspan dy="-0.8">30</tspan></text><path d="M521.9 138.7 h-1.6" stroke="#888" stroke-width="0.4"/><text class="tk" x="525.5" y="142.1"><tspan class="mn" dy="0.8">−</tspan><tspan dy="-0.8">40</tspan></text>
<text class="tk" text-anchor="middle" x="345.58" y="148.4">0.2</text><text class="tk" text-anchor="end" x="308.8" y="117.97">0.2</text><text class="tk" text-anchor="middle" x="381.78" y="148.4">0.4</text><text class="tk" text-anchor="end" x="308.8" y="91.71">0.4</text><text class="tk" text-anchor="middle" x="417.98" y="148.4">0.6</text><text class="tk" text-anchor="end" x="308.8" y="65.45">0.6</text><text class="tk" text-anchor="middle" x="454.18" y="148.4">0.8</text><text class="tk" text-anchor="end" x="308.8" y="39.19">0.8</text><text class="tk" text-anchor="middle" x="490.38" y="148.4">1</text><text class="tk" text-anchor="end" x="308.8" y="12.93">1</text>
<text class="ax" text-anchor="middle" x="403.5" y="162.5"><tspan class="mi">m</tspan><tspan class="mi">/</tspan><tspan class="mi">n</tspan> in 1</text>
<text class="ax" text-anchor="middle" transform="translate(287.1 73.05) rotate(-90)"><tspan class="mi">d</tspan><tspan class="mi sb" dy="1.7">ρ</tspan><tspan class="mi" dy="-1.7">/</tspan><tspan class="mi">m</tspan> in 1</text>
<text class="cap" x="313" y="187.4" textLength="12" lengthAdjust="spacingAndGlyphs">(<tspan class="b">f</tspan>)</text><text class="cap" x="329" y="187.4" textLength="23" lengthAdjust="spacingAndGlyphs">SVP</text><text class="cap" x="356.6" y="187.4" textLength="14" lengthAdjust="spacingAndGlyphs">for</text><text class="cap" x="374.6" y="187.4" textLength="24.4" lengthAdjust="spacingAndGlyphs">DFT</text><text class="cap" x="402.5" y="187.4" textLength="45.5" lengthAdjust="spacingAndGlyphs">operator</text><text class="cap" x="453" y="187.4" textLength="20" lengthAdjust="spacingAndGlyphs">and</text><text class="cap" x="478" y="187.4" textLength="8.4" lengthAdjust="spacingAndGlyphs"><tspan class="it">R</tspan></text><text class="cap" x="491" y="187.4" textLength="8.4" lengthAdjust="spacingAndGlyphs">=</text><text class="cap" x="503" y="187.4" textLength="9.5" lengthAdjust="spacingAndGlyphs"><tspan class="it">ρ</tspan>.</text>
</g>
<g id="plot-g">
<rect x="35.6" y="215.7" width="15.5" height="6.26" fill="#f9fb15"/><rect x="50.1" y="215.7" width="8.25" height="6.26" fill="#347afd"/><rect x="57.34" y="215.7" width="8.25" height="6.26" fill="#24c2ae"/><rect x="64.59" y="215.7" width="8.25" height="6.26" fill="#eaba31"/><rect x="71.84" y="215.7" width="8.25" height="6.26" fill="#fec13a"/><rect x="79.09" y="215.7" width="8.25" height="6.26" fill="#2d8cf3"/><rect x="86.34" y="215.7" width="8.25" height="6.26" fill="#259ce7"/><rect x="93.58" y="215.7" width="8.25" height="6.26" fill="#05b6ce"/><rect x="100.83" y="215.7" width="8.25" height="6.26" fill="#5ccc76"/><rect x="108.08" y="215.7" width="8.25" height="6.26" fill="#b4c533"/><rect x="115.33" y="215.7" width="51.74" height="6.26" fill="#dabd28"/><rect x="166.06" y="215.7" width="8.25" height="6.26" fill="#c8c129"/><rect x="173.31" y="215.7" width="8.25" height="6.26" fill="#b4c533"/><rect x="180.56" y="215.7" width="8.25" height="6.26" fill="#71cd64"/><rect x="187.81" y="215.7" width="8.25" height="6.26" fill="#48cb86"/><rect x="195.06" y="215.7" width="8.25" height="6.26" fill="#2fc5a2"/><rect x="202.3" y="215.7" width="8.25" height="6.26" fill="#fad42e"/><rect x="209.55" y="215.7" width="7.25" height="6.26" fill="#3e26a8"/>
<rect x="35.6" y="220.96" width="8.25" height="6.26" fill="#f9fb15"/><rect x="42.85" y="220.96" width="8.25" height="6.26" fill="#4743e7"/><rect x="50.1" y="220.96" width="8.25" height="6.26" fill="#1caadf"/><rect x="57.34" y="220.96" width="8.25" height="6.26" fill="#2fc5a2"/><rect x="64.59" y="220.96" width="8.25" height="6.26" fill="#eaba31"/><rect x="71.84" y="220.96" width="15.5" height="6.26" fill="#2d8cf3"/><rect x="86.34" y="220.96" width="8.25" height="6.26" fill="#1caadf"/><rect x="93.58" y="220.96" width="8.25" height="6.26" fill="#05b6ce"/><rect x="100.83" y="220.96" width="8.25" height="6.26" fill="#48cb86"/><rect x="108.08" y="220.96" width="29.99" height="6.26" fill="#2994ed"/><rect x="137.07" y="220.96" width="29.99" height="6.26" fill="#259ce7"/><rect x="166.06" y="220.96" width="44.49" height="6.26" fill="#1caadf"/><rect x="209.55" y="220.96" width="7.25" height="6.26" fill="#05b6ce"/>
<rect x="35.6" y="226.21" width="8.25" height="6.26" fill="#f9fb15"/><rect x="42.85" y="226.21" width="8.25" height="6.26" fill="#4743e7"/><rect x="50.1" y="226.21" width="8.25" height="6.26" fill="#2d8cf3"/><rect x="57.34" y="226.21" width="8.25" height="6.26" fill="#2fc5a2"/><rect x="64.59" y="226.21" width="8.25" height="6.26" fill="#eaba31"/><rect x="71.84" y="226.21" width="15.5" height="6.26" fill="#347afd"/><rect x="86.34" y="226.21" width="8.25" height="6.26" fill="#1caadf"/><rect x="93.58" y="226.21" width="8.25" height="6.26" fill="#21a3e3"/><rect x="100.83" y="226.21" width="37.24" height="6.26" fill="#2d8cf3"/><rect x="137.07" y="226.21" width="79.73" height="6.26" fill="#2e83f9"/>
<rect x="35.6" y="231.47" width="8.25" height="6.26" fill="#f9fb15"/><rect x="42.85" y="231.47" width="8.25" height="6.26" fill="#4743e7"/><rect x="50.1" y="231.47" width="8.25" height="6.26" fill="#2d8cf3"/><rect x="57.34" y="231.47" width="8.25" height="6.26" fill="#39c895"/><rect x="64.59" y="231.47" width="8.25" height="6.26" fill="#4755f6"/><rect x="71.84" y="231.47" width="8.25" height="6.26" fill="#2e83f9"/><rect x="79.09" y="231.47" width="8.25" height="6.26" fill="#05b6ce"/><rect x="86.34" y="231.47" width="15.5" height="6.26" fill="#4367fd"/><rect x="100.83" y="231.47" width="115.97" height="6.26" fill="#347afd"/>
<rect x="35.6" y="236.72" width="8.25" height="6.26" fill="#f9fb15"/><rect x="42.85" y="236.72" width="8.25" height="6.26" fill="#4743e7"/><rect x="50.1" y="236.72" width="8.25" height="6.26" fill="#02bac4"/><rect x="57.34" y="236.72" width="8.25" height="6.26" fill="#2fc5a2"/><rect x="64.59" y="236.72" width="8.25" height="6.26" fill="#2d8cf3"/><rect x="71.84" y="236.72" width="8.25" height="6.26" fill="#347afd"/><rect x="79.09" y="236.72" width="8.25" height="6.26" fill="#3d70ff"/><rect x="86.34" y="236.72" width="29.99" height="6.26" fill="#4367fd"/><rect x="115.33" y="236.72" width="101.47" height="6.26" fill="#3d70ff"/>
<rect x="35.6" y="241.98" width="8.25" height="6.26" fill="#f9fb15"/><rect x="42.85" y="241.98" width="8.25" height="6.26" fill="#259ce7"/><rect x="50.1" y="241.98" width="8.25" height="6.26" fill="#05b6ce"/><rect x="57.34" y="241.98" width="8.25" height="6.26" fill="#4743e7"/><rect x="64.59" y="241.98" width="8.25" height="6.26" fill="#347afd"/><rect x="71.84" y="241.98" width="8.25" height="6.26" fill="#4367fd"/><rect x="79.09" y="241.98" width="15.5" height="6.26" fill="#4755f6"/><rect x="93.58" y="241.98" width="8.25" height="6.26" fill="#465efb"/><rect x="100.83" y="241.98" width="8.25" height="6.26" fill="#4755f6"/><rect x="108.08" y="241.98" width="15.5" height="6.26" fill="#465efb"/><rect x="122.58" y="241.98" width="94.22" height="6.26" fill="#4367fd"/>
<rect x="35.6" y="247.24" width="8.25" height="6.26" fill="#f9fb15"/><rect x="42.85" y="247.24" width="8.25" height="6.26" fill="#4743e7"/><rect x="50.1" y="247.24" width="8.25" height="6.26" fill="#05b6ce"/><rect x="57.34" y="247.24" width="8.25" height="6.26" fill="#4743e7"/><rect x="64.59" y="247.24" width="8.25" height="6.26" fill="#4367fd"/><rect x="71.84" y="247.24" width="8.25" height="6.26" fill="#4743e7"/><rect x="79.09" y="247.24" width="15.5" height="6.26" fill="#4755f6"/><rect x="93.58" y="247.24" width="8.25" height="6.26" fill="#4743e7"/><rect x="100.83" y="247.24" width="22.74" height="6.26" fill="#4755f6"/><rect x="122.58" y="247.24" width="94.22" height="6.26" fill="#465efb"/>
<rect x="35.6" y="252.49" width="8.25" height="6.26" fill="#f9fb15"/><rect x="42.85" y="252.49" width="8.25" height="6.26" fill="#347afd"/><rect x="50.1" y="252.49" width="8.25" height="6.26" fill="#05b6ce"/><rect x="57.34" y="252.49" width="8.25" height="6.26" fill="#4743e7"/><rect x="64.59" y="252.49" width="8.25" height="6.26" fill="#465efb"/><rect x="71.84" y="252.49" width="8.25" height="6.26" fill="#4743e7"/><rect x="79.09" y="252.49" width="8.25" height="6.26" fill="#4755f6"/><rect x="86.34" y="252.49" width="15.5" height="6.26" fill="#4743e7"/><rect x="100.83" y="252.49" width="8.25" height="6.26" fill="#484cef"/><rect x="108.08" y="252.49" width="8.25" height="6.26" fill="#4743e7"/><rect x="115.33" y="252.49" width="15.5" height="6.26" fill="#484cef"/><rect x="129.82" y="252.49" width="86.98" height="6.26" fill="#4755f6"/>
<rect x="35.6" y="257.75" width="8.25" height="6.26" fill="#f9fb15"/><rect x="42.85" y="257.75" width="8.25" height="6.26" fill="#4743e7"/><rect x="50.1" y="257.75" width="8.25" height="6.26" fill="#12beb9"/><rect x="57.34" y="257.75" width="8.25" height="6.26" fill="#347afd"/><rect x="64.59" y="257.75" width="8.25" height="6.26" fill="#4755f6"/><rect x="71.84" y="257.75" width="8.25" height="6.26" fill="#4743e7"/><rect x="79.09" y="257.75" width="8.25" height="6.26" fill="#484cef"/><rect x="86.34" y="257.75" width="8.25" height="6.26" fill="#4743e7"/><rect x="93.58" y="257.75" width="8.25" height="6.26" fill="#463adc"/><rect x="100.83" y="257.75" width="29.99" height="6.26" fill="#4743e7"/><rect x="129.82" y="257.75" width="86.98" height="6.26" fill="#484cef"/>
<rect x="35.6" y="263" width="8.25" height="6.26" fill="#ffffff"/><rect x="42.85" y="263" width="8.25" height="6.26" fill="#4433cc"/><rect x="50.1" y="263" width="8.25" height="6.26" fill="#412dbb"/><rect x="57.34" y="263" width="8.25" height="6.26" fill="#4743e7"/><rect x="64.59" y="263" width="8.25" height="6.26" fill="#412dbb"/><rect x="71.84" y="263" width="8.25" height="6.26" fill="#463adc"/><rect x="79.09" y="263" width="8.25" height="6.26" fill="#4433cc"/><rect x="86.34" y="263" width="8.25" height="6.26" fill="#463adc"/><rect x="93.58" y="263" width="8.25" height="6.26" fill="#4433cc"/><rect x="100.83" y="263" width="8.25" height="6.26" fill="#463adc"/><rect x="108.08" y="263" width="8.25" height="6.26" fill="#4433cc"/><rect x="115.33" y="263" width="8.25" height="6.26" fill="#463adc"/><rect x="122.58" y="263" width="8.25" height="6.26" fill="#4433cc"/><rect x="129.82" y="263" width="86.98" height="6.26" fill="#463adc"/>
<rect x="35.6" y="268.26" width="8.25" height="6.26" fill="#ffffff"/><rect x="42.85" y="268.26" width="8.25" height="6.26" fill="#2d8cf3"/><rect x="50.1" y="268.26" width="8.25" height="6.26" fill="#3e26a8"/><rect x="57.34" y="268.26" width="8.25" height="6.26" fill="#463adc"/><rect x="64.59" y="268.26" width="8.25" height="6.26" fill="#412dbb"/><rect x="71.84" y="268.26" width="8.25" height="6.26" fill="#463adc"/><rect x="79.09" y="268.26" width="8.25" height="6.26" fill="#412dbb"/><rect x="86.34" y="268.26" width="8.25" height="6.26" fill="#463adc"/><rect x="93.58" y="268.26" width="15.5" height="6.26" fill="#4433cc"/><rect x="108.08" y="268.26" width="8.25" height="6.26" fill="#463adc"/><rect x="115.33" y="268.26" width="101.47" height="6.26" fill="#4433cc"/>
<rect x="35.6" y="273.52" width="8.25" height="6.26" fill="#ffffff"/><rect x="42.85" y="273.52" width="8.25" height="6.26" fill="#2994ed"/><rect x="50.1" y="273.52" width="8.25" height="6.26" fill="#3e26a8"/><rect x="57.34" y="273.52" width="8.25" height="6.26" fill="#463adc"/><rect x="64.59" y="273.52" width="8.25" height="6.26" fill="#3e26a8"/><rect x="71.84" y="273.52" width="8.25" height="6.26" fill="#463adc"/><rect x="79.09" y="273.52" width="8.25" height="6.26" fill="#412dbb"/><rect x="86.34" y="273.52" width="8.25" height="6.26" fill="#4433cc"/><rect x="93.58" y="273.52" width="15.5" height="6.26" fill="#412dbb"/><rect x="108.08" y="273.52" width="8.25" height="6.26" fill="#4433cc"/><rect x="115.33" y="273.52" width="101.47" height="6.26" fill="#412dbb"/>
<rect x="35.6" y="278.77" width="8.25" height="6.26" fill="#ffffff"/><rect x="42.85" y="278.77" width="8.25" height="6.26" fill="#4433cc"/><rect x="50.1" y="278.77" width="8.25" height="6.26" fill="#3e26a8"/><rect x="57.34" y="278.77" width="8.25" height="6.26" fill="#347afd"/><rect x="64.59" y="278.77" width="15.5" height="6.26" fill="#3e26a8"/><rect x="79.09" y="278.77" width="8.25" height="6.26" fill="#4433cc"/><rect x="86.34" y="278.77" width="8.25" height="6.26" fill="#3e26a8"/><rect x="93.58" y="278.77" width="8.25" height="6.26" fill="#4433cc"/><rect x="100.83" y="278.77" width="8.25" height="6.26" fill="#3e26a8"/><rect x="108.08" y="278.77" width="8.25" height="6.26" fill="#4433cc"/><rect x="115.33" y="278.77" width="8.25" height="6.26" fill="#412dbb"/><rect x="122.58" y="278.77" width="8.25" height="6.26" fill="#3e26a8"/><rect x="129.82" y="278.77" width="22.74" height="6.26" fill="#412dbb"/><rect x="151.57" y="278.77" width="65.23" height="6.26" fill="#3e26a8"/>
<rect x="35.6" y="284.03" width="8.25" height="6.26" fill="#ffffff"/><rect x="42.85" y="284.03" width="8.25" height="6.26" fill="#1caadf"/><rect x="50.1" y="284.03" width="15.5" height="6.26" fill="#3e26a8"/><rect x="64.59" y="284.03" width="8.25" height="6.26" fill="#412dbb"/><rect x="71.84" y="284.03" width="8.25" height="6.26" fill="#3e26a8"/><rect x="79.09" y="284.03" width="8.25" height="6.26" fill="#412dbb"/><rect x="86.34" y="284.03" width="130.46" height="6.26" fill="#3e26a8"/>
<rect x="35.6" y="289.28" width="8.25" height="6.26" fill="#ffffff"/><rect x="42.85" y="289.28" width="8.25" height="6.26" fill="#4433cc"/><rect x="50.1" y="289.28" width="15.5" height="6.26" fill="#3e26a8"/><rect x="64.59" y="289.28" width="8.25" height="6.26" fill="#412dbb"/><rect x="71.84" y="289.28" width="144.96" height="6.26" fill="#3e26a8"/>
<rect x="35.6" y="294.54" width="8.25" height="6.26" fill="#ffffff"/><rect x="42.85" y="294.54" width="8.25" height="6.26" fill="#347afd"/><rect x="50.1" y="294.54" width="15.5" height="6.26" fill="#3e26a8"/><rect x="64.59" y="294.54" width="8.25" height="6.26" fill="#412dbb"/><rect x="71.84" y="294.54" width="144.96" height="6.26" fill="#3e26a8"/>
<rect x="35.6" y="299.8" width="8.25" height="6.26" fill="#ffffff"/><rect x="42.85" y="299.8" width="8.25" height="6.26" fill="#21a3e3"/><rect x="50.1" y="299.8" width="166.7" height="6.26" fill="#3e26a8"/>
<rect x="35.6" y="305.05" width="15.5" height="6.26" fill="#ffffff"/><rect x="50.1" y="305.05" width="166.7" height="6.26" fill="#3e26a8"/>
<rect x="35.6" y="310.31" width="15.5" height="6.26" fill="#ffffff"/><rect x="50.1" y="310.31" width="166.7" height="6.26" fill="#3e26a8"/>
<rect x="35.6" y="315.56" width="15.5" height="6.26" fill="#ffffff"/><rect x="50.1" y="315.56" width="166.7" height="6.26" fill="#3e26a8"/>
<rect x="35.6" y="320.82" width="22.74" height="6.26" fill="#ffffff"/><rect x="57.34" y="320.82" width="159.46" height="6.26" fill="#3e26a8"/>
<rect x="35.6" y="326.08" width="29.99" height="6.26" fill="#ffffff"/><rect x="64.59" y="326.08" width="152.21" height="6.26" fill="#3e26a8"/>
<rect x="35.6" y="331.33" width="37.24" height="6.26" fill="#ffffff"/><rect x="71.84" y="331.33" width="144.96" height="6.26" fill="#3e26a8"/>
<rect x="35.6" y="336.59" width="58.98" height="6.26" fill="#ffffff"/><rect x="93.58" y="336.59" width="123.22" height="6.26" fill="#3e26a8"/>
<rect x="35.6" y="341.84" width="116.97" height="5.26" fill="#ffffff"/><rect x="151.57" y="341.84" width="65.23" height="5.26" fill="#3e26a8"/>
<path d="M68.22 347.1 v-4.2 M68.22 215.7 v4.2" stroke="#aaa" stroke-opacity="0.75" stroke-width="0.5" fill="none"/><path d="M35.6 323.45 h4.2 M216.8 323.45 h-4.2" stroke="#aaa" stroke-opacity="0.75" stroke-width="0.5" fill="none"/><path d="M104.46 347.1 v-4.2 M104.46 215.7 v4.2" stroke="#aaa" stroke-opacity="0.75" stroke-width="0.5" fill="none"/><path d="M35.6 297.17 h4.2 M216.8 297.17 h-4.2" stroke="#aaa" stroke-opacity="0.75" stroke-width="0.5" fill="none"/><path d="M140.7 347.1 v-4.2 M140.7 215.7 v4.2" stroke="#aaa" stroke-opacity="0.75" stroke-width="0.5" fill="none"/><path d="M35.6 270.89 h4.2 M216.8 270.89 h-4.2" stroke="#aaa" stroke-opacity="0.75" stroke-width="0.5" fill="none"/><path d="M176.94 347.1 v-4.2 M176.94 215.7 v4.2" stroke="#aaa" stroke-opacity="0.75" stroke-width="0.5" fill="none"/><path d="M35.6 244.61 h4.2 M216.8 244.61 h-4.2" stroke="#aaa" stroke-opacity="0.75" stroke-width="0.5" fill="none"/><path d="M213.18 347.1 v-4.2 M213.18 215.7 v4.2" stroke="#aaa" stroke-opacity="0.75" stroke-width="0.5" fill="none"/><path d="M35.6 218.33 h4.2 M216.8 218.33 h-4.2" stroke="#aaa" stroke-opacity="0.75" stroke-width="0.5" fill="none"/>
<rect x="35.6" y="215.7" width="181.2" height="131.4" fill="none" stroke="#222" stroke-width="0.7"/>
<rect x="228.7" y="215.7" width="16.2" height="131.4" fill="url(#pg)" stroke="#222" stroke-width="0.7"/>
<path d="M244.9 215.7 h-1.6" stroke="#888" stroke-width="0.4"/><text class="tk" x="248.5" y="219.1">0</text><path d="M244.9 248.55 h-1.6" stroke="#888" stroke-width="0.4"/><text class="tk" x="248.5" y="251.95"><tspan class="mn" dy="0.8">−</tspan><tspan dy="-0.8">10</tspan></text><path d="M244.9 281.4 h-1.6" stroke="#888" stroke-width="0.4"/><text class="tk" x="248.5" y="284.8"><tspan class="mn" dy="0.8">−</tspan><tspan dy="-0.8">20</tspan></text><path d="M244.9 314.25 h-1.6" stroke="#888" stroke-width="0.4"/><text class="tk" x="248.5" y="317.65"><tspan class="mn" dy="0.8">−</tspan><tspan dy="-0.8">30</tspan></text><path d="M244.9 347.1 h-1.6" stroke="#888" stroke-width="0.4"/><text class="tk" x="248.5" y="350.5"><tspan class="mn" dy="0.8">−</tspan><tspan dy="-0.8">40</tspan></text>
<text class="tk" text-anchor="middle" x="68.22" y="356.8">0.2</text><text class="tk" text-anchor="end" x="31.4" y="326.35">0.2</text><text class="tk" text-anchor="middle" x="104.46" y="356.8">0.4</text><text class="tk" text-anchor="end" x="31.4" y="300.07">0.4</text><text class="tk" text-anchor="middle" x="140.7" y="356.8">0.6</text><text class="tk" text-anchor="end" x="31.4" y="273.79">0.6</text><text class="tk" text-anchor="middle" x="176.94" y="356.8">0.8</text><text class="tk" text-anchor="end" x="31.4" y="247.51">0.8</text><text class="tk" text-anchor="middle" x="213.18" y="356.8">1</text><text class="tk" text-anchor="end" x="31.4" y="221.23">1</text>
<text class="ax" text-anchor="middle" x="126.2" y="370.9"><tspan class="mi">m</tspan><tspan class="mi">/</tspan><tspan class="mi">n</tspan> in 1</text>
<text class="ax" text-anchor="middle" transform="translate(9.7 281.4) rotate(-90)"><tspan class="mi">d</tspan><tspan class="mi sb" dy="1.7">ρ</tspan><tspan class="mi" dy="-1.7">/</tspan><tspan class="mi">m</tspan> in 1</text>
<text class="cap" x="25" y="394.9" textLength="14" lengthAdjust="spacingAndGlyphs">(<tspan class="b">g</tspan>)</text><text class="cap" x="43.6" y="394.9" textLength="36.4" lengthAdjust="spacingAndGlyphs">TARM</text><text class="cap" x="84.4" y="394.9" textLength="13.6" lengthAdjust="spacingAndGlyphs">for</text><text class="cap" x="101.6" y="394.9" textLength="11.4" lengthAdjust="spacingAndGlyphs"><tspan class="cal">A</tspan></text><text class="cap" x="116.6" y="394.9"><tspan class="til" dy="1.6">∼</tspan></text><text class="cap" x="130" y="394.9" textLength="20.7" lengthAdjust="spacingAndGlyphs"><tspan class="cal">CN</tspan></text><text class="cap" x="152" y="394.9" textLength="26.4" lengthAdjust="spacingAndGlyphs">(0,1)</text><text class="cap" x="182.6" y="394.9" textLength="20.1" lengthAdjust="spacingAndGlyphs">and</text><text class="cap" x="208" y="394.9" textLength="9" lengthAdjust="spacingAndGlyphs"><tspan class="it">R</tspan></text><text class="cap" x="221" y="394.9" textLength="8" lengthAdjust="spacingAndGlyphs">=</text><text class="cap" x="234" y="394.9" textLength="9.4" lengthAdjust="spacingAndGlyphs"><tspan class="it">ρ</tspan>.</text>
</g>
<g id="plot-h">
<rect x="316.6" y="214.5" width="15.45" height="6.28" fill="#f9fb15"/><rect x="331.05" y="214.5" width="8.22" height="6.28" fill="#eaba31"/><rect x="338.27" y="214.5" width="22.67" height="6.28" fill="#fec13a"/><rect x="359.94" y="214.5" width="8.22" height="6.28" fill="#71cd64"/><rect x="367.17" y="214.5" width="15.45" height="6.28" fill="#88cb53"/><rect x="381.62" y="214.5" width="22.67" height="6.28" fill="#9fc942"/><rect x="403.29" y="214.5" width="44.34" height="6.28" fill="#fec13a"/><rect x="446.63" y="214.5" width="15.45" height="6.28" fill="#eaba31"/><rect x="461.08" y="214.5" width="15.45" height="6.28" fill="#c8c129"/><rect x="475.53" y="214.5" width="8.22" height="6.28" fill="#9fc942"/><rect x="482.75" y="214.5" width="8.22" height="6.28" fill="#71cd64"/><rect x="489.98" y="214.5" width="7.22" height="6.28" fill="#4743e7"/>
<rect x="316.6" y="219.78" width="8.22" height="6.28" fill="#f9fb15"/><rect x="323.82" y="219.78" width="8.22" height="6.28" fill="#c8c129"/><rect x="331.05" y="219.78" width="8.22" height="6.28" fill="#eaba31"/><rect x="338.27" y="219.78" width="15.45" height="6.28" fill="#fec13a"/><rect x="352.72" y="219.78" width="8.22" height="6.28" fill="#48cb86"/><rect x="359.94" y="219.78" width="8.22" height="6.28" fill="#71cd64"/><rect x="367.17" y="219.78" width="15.45" height="6.28" fill="#88cb53"/><rect x="381.62" y="219.78" width="8.22" height="6.28" fill="#9fc942"/><rect x="388.84" y="219.78" width="15.45" height="6.28" fill="#1caadf"/><rect x="403.29" y="219.78" width="8.22" height="6.28" fill="#347afd"/><rect x="410.51" y="219.78" width="8.22" height="6.28" fill="#f8ba3d"/><rect x="417.74" y="219.78" width="37.12" height="6.28" fill="#fec13a"/><rect x="453.86" y="219.78" width="15.45" height="6.28" fill="#eaba31"/><rect x="468.3" y="219.78" width="8.22" height="6.28" fill="#c8c129"/><rect x="475.53" y="219.78" width="8.22" height="6.28" fill="#9fc942"/><rect x="482.75" y="219.78" width="8.22" height="6.28" fill="#71cd64"/><rect x="489.98" y="219.78" width="7.22" height="6.28" fill="#412dbb"/>
<rect x="316.6" y="225.06" width="8.22" height="6.28" fill="#f9fb15"/><rect x="323.82" y="225.06" width="8.22" height="6.28" fill="#c8c129"/><rect x="331.05" y="225.06" width="8.22" height="6.28" fill="#eaba31"/><rect x="338.27" y="225.06" width="15.45" height="6.28" fill="#fec13a"/><rect x="352.72" y="225.06" width="8.22" height="6.28" fill="#48cb86"/><rect x="359.94" y="225.06" width="8.22" height="6.28" fill="#71cd64"/><rect x="367.17" y="225.06" width="15.45" height="6.28" fill="#88cb53"/><rect x="381.62" y="225.06" width="8.22" height="6.28" fill="#12beb9"/><rect x="388.84" y="225.06" width="8.22" height="6.28" fill="#05b6ce"/><rect x="396.06" y="225.06" width="8.22" height="6.28" fill="#1caadf"/><rect x="403.29" y="225.06" width="8.22" height="6.28" fill="#347afd"/><rect x="410.51" y="225.06" width="8.22" height="6.28" fill="#dabd28"/><rect x="417.74" y="225.06" width="8.22" height="6.28" fill="#c8c129"/><rect x="424.96" y="225.06" width="15.45" height="6.28" fill="#eaba31"/><rect x="439.41" y="225.06" width="22.67" height="6.28" fill="#dabd28"/><rect x="461.08" y="225.06" width="8.22" height="6.28" fill="#c8c129"/><rect x="468.3" y="225.06" width="8.22" height="6.28" fill="#b4c533"/><rect x="475.53" y="225.06" width="8.22" height="6.28" fill="#9fc942"/><rect x="482.75" y="225.06" width="8.22" height="6.28" fill="#48cb86"/><rect x="489.98" y="225.06" width="7.22" height="6.28" fill="#412dbb"/>
<rect x="316.6" y="230.34" width="8.22" height="6.28" fill="#f9fb15"/><rect x="323.82" y="230.34" width="8.22" height="6.28" fill="#c8c129"/><rect x="331.05" y="230.34" width="8.22" height="6.28" fill="#eaba31"/><rect x="338.27" y="230.34" width="8.22" height="6.28" fill="#fec13a"/><rect x="345.5" y="230.34" width="8.22" height="6.28" fill="#2fc5a2"/><rect x="352.72" y="230.34" width="8.22" height="6.28" fill="#48cb86"/><rect x="359.94" y="230.34" width="8.22" height="6.28" fill="#71cd64"/><rect x="367.17" y="230.34" width="15.45" height="6.28" fill="#1caadf"/><rect x="381.62" y="230.34" width="8.22" height="6.28" fill="#12beb9"/><rect x="388.84" y="230.34" width="8.22" height="6.28" fill="#05b6ce"/><rect x="396.06" y="230.34" width="8.22" height="6.28" fill="#347afd"/><rect x="403.29" y="230.34" width="8.22" height="6.28" fill="#4755f6"/><rect x="410.51" y="230.34" width="8.22" height="6.28" fill="#465efb"/><rect x="417.74" y="230.34" width="8.22" height="6.28" fill="#b4c533"/><rect x="424.96" y="230.34" width="15.45" height="6.28" fill="#eaba31"/><rect x="439.41" y="230.34" width="29.9" height="6.28" fill="#c8c129"/><rect x="468.3" y="230.34" width="8.22" height="6.28" fill="#9fc942"/><rect x="475.53" y="230.34" width="8.22" height="6.28" fill="#88cb53"/><rect x="482.75" y="230.34" width="8.22" height="6.28" fill="#2fc5a2"/><rect x="489.98" y="230.34" width="7.22" height="6.28" fill="#412dbb"/>
<rect x="316.6" y="235.62" width="8.22" height="6.28" fill="#f9fb15"/><rect x="323.82" y="235.62" width="8.22" height="6.28" fill="#c8c129"/><rect x="331.05" y="235.62" width="8.22" height="6.28" fill="#eaba31"/><rect x="338.27" y="235.62" width="8.22" height="6.28" fill="#fec13a"/><rect x="345.5" y="235.62" width="8.22" height="6.28" fill="#2fc5a2"/><rect x="352.72" y="235.62" width="8.22" height="6.28" fill="#48cb86"/><rect x="359.94" y="235.62" width="8.22" height="6.28" fill="#71cd64"/><rect x="367.17" y="235.62" width="15.45" height="6.28" fill="#1caadf"/><rect x="381.62" y="235.62" width="8.22" height="6.28" fill="#12beb9"/><rect x="388.84" y="235.62" width="8.22" height="6.28" fill="#05b6ce"/><rect x="396.06" y="235.62" width="8.22" height="6.28" fill="#347afd"/><rect x="403.29" y="235.62" width="15.45" height="6.28" fill="#4755f6"/><rect x="417.74" y="235.62" width="8.22" height="6.28" fill="#4743e7"/><rect x="424.96" y="235.62" width="8.22" height="6.28" fill="#9fc942"/><rect x="432.18" y="235.62" width="8.22" height="6.28" fill="#dabd28"/><rect x="439.41" y="235.62" width="15.45" height="6.28" fill="#c8c129"/><rect x="453.86" y="235.62" width="8.22" height="6.28" fill="#b4c533"/><rect x="461.08" y="235.62" width="8.22" height="6.28" fill="#9fc942"/><rect x="468.3" y="235.62" width="8.22" height="6.28" fill="#71cd64"/><rect x="475.53" y="235.62" width="8.22" height="6.28" fill="#48cb86"/><rect x="482.75" y="235.62" width="8.22" height="6.28" fill="#12beb9"/><rect x="489.98" y="235.62" width="7.22" height="6.28" fill="#412dbb"/>
<rect x="316.6" y="240.9" width="8.22" height="6.28" fill="#f9fb15"/><rect x="323.82" y="240.9" width="8.22" height="6.28" fill="#c8c129"/><rect x="331.05" y="240.9" width="8.22" height="6.28" fill="#eaba31"/><rect x="338.27" y="240.9" width="8.22" height="6.28" fill="#02bac4"/><rect x="345.5" y="240.9" width="8.22" height="6.28" fill="#48cb86"/><rect x="352.72" y="240.9" width="8.22" height="6.28" fill="#2fc5a2"/><rect x="359.94" y="240.9" width="8.22" height="6.28" fill="#2994ed"/><rect x="367.17" y="240.9" width="15.45" height="6.28" fill="#1caadf"/><rect x="381.62" y="240.9" width="15.45" height="6.28" fill="#2d8cf3"/><rect x="396.06" y="240.9" width="8.22" height="6.28" fill="#347afd"/><rect x="403.29" y="240.9" width="22.67" height="6.28" fill="#4743e7"/><rect x="424.96" y="240.9" width="8.22" height="6.28" fill="#88cb53"/><rect x="432.18" y="240.9" width="8.22" height="6.28" fill="#48cb86"/><rect x="439.41" y="240.9" width="15.45" height="6.28" fill="#b4c533"/><rect x="453.86" y="240.9" width="8.22" height="6.28" fill="#9fc942"/><rect x="461.08" y="240.9" width="8.22" height="6.28" fill="#71cd64"/><rect x="468.3" y="240.9" width="8.22" height="6.28" fill="#48cb86"/><rect x="475.53" y="240.9" width="8.22" height="6.28" fill="#2fc5a2"/><rect x="482.75" y="240.9" width="8.22" height="6.28" fill="#12beb9"/><rect x="489.98" y="240.9" width="7.22" height="6.28" fill="#412dbb"/>
<rect x="316.6" y="246.18" width="8.22" height="6.28" fill="#f9fb15"/><rect x="323.82" y="246.18" width="8.22" height="6.28" fill="#c8c129"/><rect x="331.05" y="246.18" width="8.22" height="6.28" fill="#eaba31"/><rect x="338.27" y="246.18" width="8.22" height="6.28" fill="#02bac4"/><rect x="345.5" y="246.18" width="8.22" height="6.28" fill="#48cb86"/><rect x="352.72" y="246.18" width="15.45" height="6.28" fill="#2994ed"/><rect x="367.17" y="246.18" width="8.22" height="6.28" fill="#1caadf"/><rect x="374.39" y="246.18" width="8.22" height="6.28" fill="#484cef"/><rect x="381.62" y="246.18" width="15.45" height="6.28" fill="#2d8cf3"/><rect x="396.06" y="246.18" width="8.22" height="6.28" fill="#484cef"/><rect x="403.29" y="246.18" width="8.22" height="6.28" fill="#463adc"/><rect x="410.51" y="246.18" width="22.67" height="6.28" fill="#4433cc"/><rect x="432.18" y="246.18" width="8.22" height="6.28" fill="#39c895"/><rect x="439.41" y="246.18" width="8.22" height="6.28" fill="#2994ed"/><rect x="446.63" y="246.18" width="8.22" height="6.28" fill="#88cb53"/><rect x="453.86" y="246.18" width="8.22" height="6.28" fill="#71cd64"/><rect x="461.08" y="246.18" width="8.22" height="6.28" fill="#48cb86"/><rect x="468.3" y="246.18" width="15.45" height="6.28" fill="#12beb9"/><rect x="482.75" y="246.18" width="8.22" height="6.28" fill="#1caadf"/><rect x="489.98" y="246.18" width="7.22" height="6.28" fill="#412dbb"/>
<rect x="316.6" y="251.46" width="8.22" height="6.28" fill="#f9fb15"/><rect x="323.82" y="251.46" width="8.22" height="6.28" fill="#c8c129"/><rect x="331.05" y="251.46" width="8.22" height="6.28" fill="#eaba31"/><rect x="338.27" y="251.46" width="8.22" height="6.28" fill="#02bac4"/><rect x="345.5" y="251.46" width="8.22" height="6.28" fill="#48cb86"/><rect x="352.72" y="251.46" width="15.45" height="6.28" fill="#2994ed"/><rect x="367.17" y="251.46" width="8.22" height="6.28" fill="#465efb"/><rect x="374.39" y="251.46" width="8.22" height="6.28" fill="#4743e7"/><rect x="381.62" y="251.46" width="8.22" height="6.28" fill="#2d8cf3"/><rect x="388.84" y="251.46" width="8.22" height="6.28" fill="#4755f6"/><rect x="396.06" y="251.46" width="8.22" height="6.28" fill="#484cef"/><rect x="403.29" y="251.46" width="37.12" height="6.28" fill="#4433cc"/><rect x="439.41" y="251.46" width="8.22" height="6.28" fill="#2d8cf3"/><rect x="446.63" y="251.46" width="8.22" height="6.28" fill="#484cef"/><rect x="453.86" y="251.46" width="8.22" height="6.28" fill="#02bac4"/><rect x="461.08" y="251.46" width="8.22" height="6.28" fill="#12beb9"/><rect x="468.3" y="251.46" width="8.22" height="6.28" fill="#347afd"/><rect x="475.53" y="251.46" width="8.22" height="6.28" fill="#2d8cf3"/><rect x="482.75" y="251.46" width="8.22" height="6.28" fill="#3d70ff"/><rect x="489.98" y="251.46" width="7.22" height="6.28" fill="#412dbb"/>
<rect x="316.6" y="256.74" width="8.22" height="6.28" fill="#f9fb15"/><rect x="323.82" y="256.74" width="8.22" height="6.28" fill="#c8c129"/><rect x="331.05" y="256.74" width="8.22" height="6.28" fill="#eaba31"/><rect x="338.27" y="256.74" width="8.22" height="6.28" fill="#02bac4"/><rect x="345.5" y="256.74" width="8.22" height="6.28" fill="#48cb86"/><rect x="352.72" y="256.74" width="15.45" height="6.28" fill="#2994ed"/><rect x="367.17" y="256.74" width="8.22" height="6.28" fill="#465efb"/><rect x="374.39" y="256.74" width="8.22" height="6.28" fill="#4743e7"/><rect x="381.62" y="256.74" width="8.22" height="6.28" fill="#4755f6"/><rect x="388.84" y="256.74" width="8.22" height="6.28" fill="#4743e7"/><rect x="396.06" y="256.74" width="8.22" height="6.28" fill="#463adc"/><rect x="403.29" y="256.74" width="29.9" height="6.28" fill="#4433cc"/><rect x="432.18" y="256.74" width="8.22" height="6.28" fill="#412dbb"/><rect x="439.41" y="256.74" width="15.45" height="6.28" fill="#3e26a8"/><rect x="453.86" y="256.74" width="8.22" height="6.28" fill="#412dbb"/><rect x="461.08" y="256.74" width="8.22" height="6.28" fill="#4755f6"/><rect x="468.3" y="256.74" width="8.22" height="6.28" fill="#2994ed"/><rect x="475.53" y="256.74" width="8.22" height="6.28" fill="#4367fd"/><rect x="482.75" y="256.74" width="8.22" height="6.28" fill="#484cef"/><rect x="489.98" y="256.74" width="7.22" height="6.28" fill="#412dbb"/>
<rect x="316.6" y="262.02" width="8.22" height="6.28" fill="#ffffff"/><rect x="323.82" y="262.02" width="8.22" height="6.28" fill="#dabd28"/><rect x="331.05" y="262.02" width="8.22" height="6.28" fill="#05b6ce"/><rect x="338.27" y="262.02" width="8.22" height="6.28" fill="#24c2ae"/><rect x="345.5" y="262.02" width="8.22" height="6.28" fill="#259ce7"/><rect x="352.72" y="262.02" width="8.22" height="6.28" fill="#2994ed"/><rect x="359.94" y="262.02" width="8.22" height="6.28" fill="#4367fd"/><rect x="367.17" y="262.02" width="8.22" height="6.28" fill="#465efb"/><rect x="374.39" y="262.02" width="8.22" height="6.28" fill="#4433cc"/><rect x="381.62" y="262.02" width="8.22" height="6.28" fill="#4755f6"/><rect x="388.84" y="262.02" width="22.67" height="6.28" fill="#4433cc"/><rect x="410.51" y="262.02" width="29.9" height="6.28" fill="#412dbb"/><rect x="439.41" y="262.02" width="29.9" height="6.28" fill="#3e26a8"/><rect x="468.3" y="262.02" width="8.22" height="6.28" fill="#4433cc"/><rect x="475.53" y="262.02" width="21.67" height="6.28" fill="#3e26a8"/>
<rect x="316.6" y="267.3" width="8.22" height="6.28" fill="#ffffff"/><rect x="323.82" y="267.3" width="8.22" height="6.28" fill="#dabd28"/><rect x="331.05" y="267.3" width="8.22" height="6.28" fill="#05b6ce"/><rect x="338.27" y="267.3" width="8.22" height="6.28" fill="#24c2ae"/><rect x="345.5" y="267.3" width="8.22" height="6.28" fill="#259ce7"/><rect x="352.72" y="267.3" width="8.22" height="6.28" fill="#2994ed"/><rect x="359.94" y="267.3" width="8.22" height="6.28" fill="#4367fd"/><rect x="367.17" y="267.3" width="8.22" height="6.28" fill="#465efb"/><rect x="374.39" y="267.3" width="8.22" height="6.28" fill="#4433cc"/><rect x="381.62" y="267.3" width="8.22" height="6.28" fill="#4755f6"/><rect x="388.84" y="267.3" width="15.45" height="6.28" fill="#4433cc"/><rect x="403.29" y="267.3" width="8.22" height="6.28" fill="#412dbb"/><rect x="410.51" y="267.3" width="8.22" height="6.28" fill="#3e26a8"/><rect x="417.74" y="267.3" width="8.22" height="6.28" fill="#412dbb"/><rect x="424.96" y="267.3" width="72.24" height="6.28" fill="#3e26a8"/>
<rect x="316.6" y="272.58" width="8.22" height="6.28" fill="#ffffff"/><rect x="323.82" y="272.58" width="8.22" height="6.28" fill="#dabd28"/><rect x="331.05" y="272.58" width="8.22" height="6.28" fill="#05b6ce"/><rect x="338.27" y="272.58" width="8.22" height="6.28" fill="#24c2ae"/><rect x="345.5" y="272.58" width="8.22" height="6.28" fill="#259ce7"/><rect x="352.72" y="272.58" width="8.22" height="6.28" fill="#2994ed"/><rect x="359.94" y="272.58" width="8.22" height="6.28" fill="#4367fd"/><rect x="367.17" y="272.58" width="15.45" height="6.28" fill="#412dbb"/><rect x="381.62" y="272.58" width="8.22" height="6.28" fill="#4433cc"/><rect x="388.84" y="272.58" width="8.22" height="6.28" fill="#412dbb"/><rect x="396.06" y="272.58" width="101.14" height="6.28" fill="#3e26a8"/>
<rect x="316.6" y="277.86" width="8.22" height="6.28" fill="#ffffff"/><rect x="323.82" y="277.86" width="8.22" height="6.28" fill="#dabd28"/><rect x="331.05" y="277.86" width="8.22" height="6.28" fill="#05b6ce"/><rect x="338.27" y="277.86" width="8.22" height="6.28" fill="#24c2ae"/><rect x="345.5" y="277.86" width="8.22" height="6.28" fill="#259ce7"/><rect x="352.72" y="277.86" width="8.22" height="6.28" fill="#4743e7"/><rect x="359.94" y="277.86" width="8.22" height="6.28" fill="#4367fd"/><rect x="367.17" y="277.86" width="15.45" height="6.28" fill="#412dbb"/><rect x="381.62" y="277.86" width="8.22" height="6.28" fill="#4433cc"/><rect x="388.84" y="277.86" width="108.36" height="6.28" fill="#3e26a8"/>
<rect x="316.6" y="283.14" width="8.22" height="6.28" fill="#ffffff"/><rect x="323.82" y="283.14" width="8.22" height="6.28" fill="#dabd28"/><rect x="331.05" y="283.14" width="8.22" height="6.28" fill="#05b6ce"/><rect x="338.27" y="283.14" width="8.22" height="6.28" fill="#4755f6"/><rect x="345.5" y="283.14" width="8.22" height="6.28" fill="#259ce7"/><rect x="352.72" y="283.14" width="8.22" height="6.28" fill="#4743e7"/><rect x="359.94" y="283.14" width="8.22" height="6.28" fill="#4367fd"/><rect x="367.17" y="283.14" width="15.45" height="6.28" fill="#412dbb"/><rect x="381.62" y="283.14" width="8.22" height="6.28" fill="#4433cc"/><rect x="388.84" y="283.14" width="108.36" height="6.28" fill="#3e26a8"/>
<rect x="316.6" y="288.42" width="8.22" height="6.28" fill="#ffffff"/><rect x="323.82" y="288.42" width="8.22" height="6.28" fill="#dabd28"/><rect x="331.05" y="288.42" width="8.22" height="6.28" fill="#05b6ce"/><rect x="338.27" y="288.42" width="8.22" height="6.28" fill="#4433cc"/><rect x="345.5" y="288.42" width="8.22" height="6.28" fill="#259ce7"/><rect x="352.72" y="288.42" width="8.22" height="6.28" fill="#4743e7"/><rect x="359.94" y="288.42" width="8.22" height="6.28" fill="#3e26a8"/><rect x="367.17" y="288.42" width="8.22" height="6.28" fill="#412dbb"/><rect x="374.39" y="288.42" width="122.81" height="6.28" fill="#3e26a8"/>
<rect x="316.6" y="293.7" width="8.22" height="6.28" fill="#ffffff"/><rect x="323.82" y="293.7" width="8.22" height="6.28" fill="#dabd28"/><rect x="331.05" y="293.7" width="8.22" height="6.28" fill="#05b6ce"/><rect x="338.27" y="293.7" width="8.22" height="6.28" fill="#4755f6"/><rect x="345.5" y="293.7" width="8.22" height="6.28" fill="#259ce7"/><rect x="352.72" y="293.7" width="8.22" height="6.28" fill="#4743e7"/><rect x="359.94" y="293.7" width="137.26" height="6.28" fill="#3e26a8"/>
<rect x="316.6" y="298.98" width="8.22" height="6.28" fill="#ffffff"/><rect x="323.82" y="298.98" width="8.22" height="6.28" fill="#dabd28"/><rect x="331.05" y="298.98" width="8.22" height="6.28" fill="#05b6ce"/><rect x="338.27" y="298.98" width="8.22" height="6.28" fill="#4755f6"/><rect x="345.5" y="298.98" width="8.22" height="6.28" fill="#4433cc"/><rect x="352.72" y="298.98" width="8.22" height="6.28" fill="#4743e7"/><rect x="359.94" y="298.98" width="137.26" height="6.28" fill="#3e26a8"/>
<rect x="316.6" y="304.26" width="15.45" height="6.28" fill="#ffffff"/><rect x="331.05" y="304.26" width="8.22" height="6.28" fill="#05b6ce"/><rect x="338.27" y="304.26" width="8.22" height="6.28" fill="#4743e7"/><rect x="345.5" y="304.26" width="8.22" height="6.28" fill="#4433cc"/><rect x="352.72" y="304.26" width="144.48" height="6.28" fill="#3e26a8"/>
<rect x="316.6" y="309.54" width="15.45" height="6.28" fill="#ffffff"/><rect x="331.05" y="309.54" width="8.22" height="6.28" fill="#05b6ce"/><rect x="338.27" y="309.54" width="8.22" height="6.28" fill="#4743e7"/><rect x="345.5" y="309.54" width="8.22" height="6.28" fill="#4433cc"/><rect x="352.72" y="309.54" width="144.48" height="6.28" fill="#3e26a8"/>
<rect x="316.6" y="314.82" width="15.45" height="6.28" fill="#ffffff"/><rect x="331.05" y="314.82" width="8.22" height="6.28" fill="#05b6ce"/><rect x="338.27" y="314.82" width="8.22" height="6.28" fill="#4743e7"/><rect x="345.5" y="314.82" width="8.22" height="6.28" fill="#4433cc"/><rect x="352.72" y="314.82" width="144.48" height="6.28" fill="#3e26a8"/>
<rect x="316.6" y="320.1" width="22.67" height="6.28" fill="#ffffff"/><rect x="338.27" y="320.1" width="8.22" height="6.28" fill="#4743e7"/><rect x="345.5" y="320.1" width="8.22" height="6.28" fill="#4433cc"/><rect x="352.72" y="320.1" width="144.48" height="6.28" fill="#3e26a8"/>
<rect x="316.6" y="325.38" width="29.9" height="6.28" fill="#ffffff"/><rect x="345.5" y="325.38" width="8.22" height="6.28" fill="#4433cc"/><rect x="352.72" y="325.38" width="144.48" height="6.28" fill="#3e26a8"/>
<rect x="316.6" y="330.66" width="37.12" height="6.28" fill="#ffffff"/><rect x="352.72" y="330.66" width="144.48" height="6.28" fill="#3e26a8"/>
<rect x="316.6" y="335.94" width="58.79" height="6.28" fill="#ffffff"/><rect x="374.39" y="335.94" width="122.81" height="6.28" fill="#3e26a8"/>
<rect x="316.6" y="341.22" width="116.58" height="5.28" fill="#ffffff"/><rect x="432.18" y="341.22" width="65.02" height="5.28" fill="#3e26a8"/>
<path d="M349.11 346.5 v-4.2 M349.11 214.5 v4.2" stroke="#aaa" stroke-opacity="0.75" stroke-width="0.5" fill="none"/><path d="M316.6 322.74 h4.2 M497.2 322.74 h-4.2" stroke="#aaa" stroke-opacity="0.75" stroke-width="0.5" fill="none"/><path d="M385.23 346.5 v-4.2 M385.23 214.5 v4.2" stroke="#aaa" stroke-opacity="0.75" stroke-width="0.5" fill="none"/><path d="M316.6 296.34 h4.2 M497.2 296.34 h-4.2" stroke="#aaa" stroke-opacity="0.75" stroke-width="0.5" fill="none"/><path d="M421.35 346.5 v-4.2 M421.35 214.5 v4.2" stroke="#aaa" stroke-opacity="0.75" stroke-width="0.5" fill="none"/><path d="M316.6 269.94 h4.2 M497.2 269.94 h-4.2" stroke="#aaa" stroke-opacity="0.75" stroke-width="0.5" fill="none"/><path d="M457.47 346.5 v-4.2 M457.47 214.5 v4.2" stroke="#aaa" stroke-opacity="0.75" stroke-width="0.5" fill="none"/><path d="M316.6 243.54 h4.2 M497.2 243.54 h-4.2" stroke="#aaa" stroke-opacity="0.75" stroke-width="0.5" fill="none"/><path d="M493.59 346.5 v-4.2 M493.59 214.5 v4.2" stroke="#aaa" stroke-opacity="0.75" stroke-width="0.5" fill="none"/><path d="M316.6 217.14 h4.2 M497.2 217.14 h-4.2" stroke="#aaa" stroke-opacity="0.75" stroke-width="0.5" fill="none"/>
<rect x="316.6" y="214.5" width="180.6" height="132" fill="none" stroke="#222" stroke-width="0.7"/>
<rect x="509" y="214.5" width="16.6" height="132" fill="url(#pg)" stroke="#222" stroke-width="0.7"/>
<path d="M525.6 214.5 h-1.6" stroke="#888" stroke-width="0.4"/><text class="tk" x="529.2" y="217.9">0</text><path d="M525.6 247.5 h-1.6" stroke="#888" stroke-width="0.4"/><text class="tk" x="529.2" y="250.9"><tspan class="mn" dy="0.8">−</tspan><tspan dy="-0.8">10</tspan></text><path d="M525.6 280.5 h-1.6" stroke="#888" stroke-width="0.4"/><text class="tk" x="529.2" y="283.9"><tspan class="mn" dy="0.8">−</tspan><tspan dy="-0.8">20</tspan></text><path d="M525.6 313.5 h-1.6" stroke="#888" stroke-width="0.4"/><text class="tk" x="529.2" y="316.9"><tspan class="mn" dy="0.8">−</tspan><tspan dy="-0.8">30</tspan></text><path d="M525.6 346.5 h-1.6" stroke="#888" stroke-width="0.4"/><text class="tk" x="529.2" y="349.9"><tspan class="mn" dy="0.8">−</tspan><tspan dy="-0.8">40</tspan></text>
<text class="tk" text-anchor="middle" x="349.11" y="357">0.2</text><text class="tk" text-anchor="end" x="312.4" y="325.64">0.2</text><text class="tk" text-anchor="middle" x="385.23" y="357">0.4</text><text class="tk" text-anchor="end" x="312.4" y="299.24">0.4</text><text class="tk" text-anchor="middle" x="421.35" y="357">0.6</text><text class="tk" text-anchor="end" x="312.4" y="272.84">0.6</text><text class="tk" text-anchor="middle" x="457.47" y="357">0.8</text><text class="tk" text-anchor="end" x="312.4" y="246.44">0.8</text><text class="tk" text-anchor="middle" x="493.59" y="357">1</text><text class="tk" text-anchor="end" x="312.4" y="220.04">1</text>
<text class="ax axs" text-anchor="middle" x="406.9" y="371.9"><tspan class="mi">m</tspan><tspan class="mi">/</tspan><tspan class="mi">n</tspan> in 1</text>
<text class="ax axs" text-anchor="middle" transform="translate(290.7 280.5) rotate(-90)"><tspan class="mi">d</tspan><tspan class="mi sb" dy="1.7">ρ</tspan><tspan class="mi" dy="-1.7">/</tspan><tspan class="mi">m</tspan> in 1</text>
<text class="cap" x="306.6" y="394.7" textLength="15.1" lengthAdjust="spacingAndGlyphs">(<tspan class="b">h</tspan>)</text><text class="cap" x="326.5" y="394.7" textLength="35.5" lengthAdjust="spacingAndGlyphs">TARM</text><text class="cap" x="366.7" y="394.7" textLength="13.3" lengthAdjust="spacingAndGlyphs">for</text><text class="cap" x="384.6" y="394.7" textLength="23.7" lengthAdjust="spacingAndGlyphs">DFT</text><text class="cap" x="412.8" y="394.7" textLength="46.2" lengthAdjust="spacingAndGlyphs">operator</text><text class="cap" x="463.6" y="394.7" textLength="19.4" lengthAdjust="spacingAndGlyphs">and</text><text class="cap" x="488.2" y="394.7" textLength="9" lengthAdjust="spacingAndGlyphs"><tspan class="it">R</tspan></text><text class="cap" x="501.5" y="394.7" textLength="8.2" lengthAdjust="spacingAndGlyphs">=</text><text class="cap" x="514.2" y="394.7" textLength="9" lengthAdjust="spacingAndGlyphs"><tspan class="it">ρ</tspan>.</text>
</g>
</svg>
</body></html>
